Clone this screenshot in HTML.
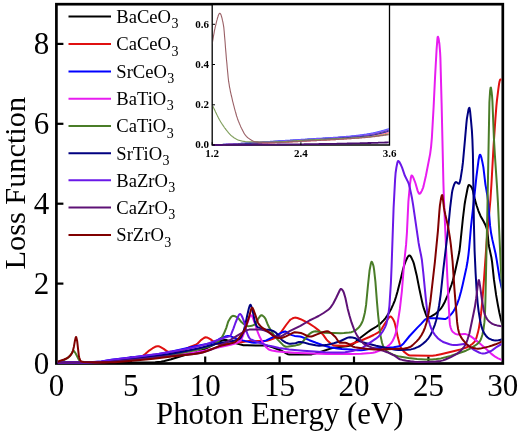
<!DOCTYPE html>
<html><head><meta charset="utf-8"><style>html,body{margin:0;padding:0;background:#fff;}svg{display:block;}</style></head>
<body>
<svg width="520" height="433" viewBox="0 0 520 433">
<rect width="520" height="433" fill="#fff"/>
<defs><clipPath id="c"><rect x="57.8" y="5.5" width="443.7" height="359.5"/></clipPath><clipPath id="ic"><rect x="212.9" y="5.5" width="175.9" height="141"/></clipPath></defs>
<rect x="56.4" y="4.2" width="446.4" height="359.3" fill="none" stroke="#000" stroke-width="2.7"/>
<line x1="56.4" y1="283.6" x2="63.4" y2="283.6" stroke="#000" stroke-width="2.2"/>
<line x1="56.4" y1="203.7" x2="63.4" y2="203.7" stroke="#000" stroke-width="2.2"/>
<line x1="56.4" y1="123.8" x2="63.4" y2="123.8" stroke="#000" stroke-width="2.2"/>
<line x1="56.4" y1="43.9" x2="63.4" y2="43.9" stroke="#000" stroke-width="2.2"/>
<line x1="130.8" y1="363.5" x2="130.8" y2="356.5" stroke="#000" stroke-width="2.2"/>
<line x1="205.2" y1="363.5" x2="205.2" y2="356.5" stroke="#000" stroke-width="2.2"/>
<line x1="279.6" y1="363.5" x2="279.6" y2="356.5" stroke="#000" stroke-width="2.2"/>
<line x1="354.0" y1="363.5" x2="354.0" y2="356.5" stroke="#000" stroke-width="2.2"/>
<line x1="428.4" y1="363.5" x2="428.4" y2="356.5" stroke="#000" stroke-width="2.2"/>
<g clip-path="url(#c)" fill="none" stroke-width="2" stroke-linejoin="round" stroke-linecap="round">
<path d="M56.4,362.4 L100.2,362.5 L150.2,362.4 L155.2,362.2 L160.9,361.7 L164.4,361.0 L171.2,359.2 L184.9,355.0 L195.4,352.4 L199.9,351.0 L203.7,349.5 L212.9,345.1 L220.2,341.2 L222.7,340.3 L224.7,340.0 L226.2,340.1 L227.7,340.4 L234.4,342.8 L240.7,344.6 L243.4,345.2 L247.2,345.3 L265.1,345.5 L266.9,345.7 L268.6,346.0 L272.6,347.2 L280.4,350.2 L282.1,351.0 L286.6,353.6 L288.1,354.2 L289.6,354.5 L310.1,354.5 L311.6,354.4 L314.9,353.6 L322.6,351.2 L329.6,348.9 L333.4,347.8 L337.4,347.2 L346.6,346.3 L350.4,345.6 L351.9,344.9 L353.4,343.9 L359.4,338.5 L367.6,332.2 L370.9,329.9 L376.6,326.5 L379.4,324.4 L381.6,322.4 L383.6,320.4 L385.4,318.3 L387.1,315.8 L389.4,312.1 L391.4,308.4 L393.1,304.6 L394.9,300.3 L396.1,296.5 L397.4,292.0 L400.6,279.5 L403.1,269.0 L404.4,264.6 L406.1,260.2 L407.4,257.5 L408.4,256.0 L408.9,255.6 L409.4,255.4 L409.9,255.6 L410.4,256.0 L411.4,257.6 L413.1,261.3 L414.1,264.4 L416.6,274.9 L419.4,289.1 L421.9,300.9 L422.9,305.2 L423.9,308.7 L425.9,314.4 L426.6,316.1 L427.1,316.9 L427.9,317.5 L428.9,317.4 L430.1,317.0 L434.1,314.7 L436.4,313.0 L439.9,309.6 L441.4,307.8 L442.6,306.0 L444.9,301.7 L447.6,295.4 L451.4,285.0 L452.9,280.3 L454.4,274.5 L458.1,257.8 L459.4,251.3 L460.1,245.6 L462.9,218.5 L464.6,204.5 L465.4,199.6 L467.4,189.2 L468.1,186.3 L468.6,185.2 L468.9,185.0 L469.6,185.2 L470.4,185.8 L471.1,186.7 L472.1,188.3 L472.9,190.6 L474.9,199.6 L476.6,205.5 L478.4,210.8 L480.4,215.7 L483.4,221.0 L485.4,225.0 L486.1,226.8 L486.9,229.2 L487.4,231.9 L488.6,243.4 L489.1,246.9 L491.4,257.5 L492.1,262.1 L493.9,279.2 L496.1,294.9 L497.9,305.1 L499.4,312.9 L501.1,320.3 L502.6,325.5" stroke="#000000"/>
<path d="M56.4,362.4 L96.9,362.3 L104.7,362.2 L110.2,361.9 L116.4,361.3 L132.2,359.2 L137.4,358.1 L139.9,357.3 L141.2,356.8 L142.7,355.9 L145.2,354.1 L149.2,350.6 L152.7,348.2 L155.2,346.8 L156.2,346.4 L157.2,346.2 L158.7,346.3 L160.2,346.9 L163.7,348.9 L166.4,350.9 L167.7,351.4 L173.9,351.8 L175.7,351.8 L177.4,351.6 L180.2,351.0 L183.4,350.1 L189.9,347.0 L195.9,344.6 L197.7,343.5 L200.9,340.1 L203.9,338.0 L204.9,337.5 L205.7,337.3 L206.9,337.4 L208.4,338.1 L210.7,339.4 L213.7,341.7 L214.9,342.5 L217.9,343.8 L219.7,344.2 L223.7,344.0 L239.4,342.6 L248.9,341.1 L265.1,340.9 L266.9,340.7 L269.6,340.0 L273.6,338.6 L275.9,337.4 L278.1,335.9 L279.9,333.9 L286.1,325.0 L289.6,320.5 L290.6,319.5 L292.4,318.5 L293.6,317.9 L294.9,317.6 L296.1,317.7 L297.4,318.0 L300.6,319.2 L302.6,320.1 L308.9,323.4 L314.4,327.0 L318.4,330.1 L321.9,333.4 L323.4,335.2 L326.4,339.4 L327.9,341.1 L331.9,344.5 L333.1,345.2 L334.4,345.6 L345.4,345.7 L348.1,345.2 L362.4,340.0 L369.4,337.0 L373.6,335.0 L377.9,332.6 L379.4,331.5 L380.4,330.6 L381.9,328.6 L384.9,323.6 L388.4,318.3 L389.4,317.1 L389.9,316.7 L390.4,316.5 L391.1,316.7 L392.1,317.8 L393.4,319.8 L394.4,322.0 L395.4,325.8 L397.9,337.6 L399.9,345.1 L400.9,347.8 L402.1,349.7 L403.6,351.4 L407.1,354.2 L408.9,355.3 L409.9,355.5 L413.6,355.6 L429.1,355.8 L432.4,355.7 L435.9,355.3 L440.9,354.2 L456.4,350.5 L460.6,349.4 L466.4,347.5 L468.4,346.5 L470.4,345.3 L472.6,343.7 L474.4,341.9 L475.4,340.4 L476.4,337.9 L477.9,332.6 L478.9,328.1 L480.1,320.6 L481.1,313.2 L482.4,300.2 L484.1,278.1 L487.1,235.2 L489.6,209.0 L490.4,200.0 L491.4,184.8 L493.6,145.4 L495.4,119.0 L496.4,105.9 L496.9,100.9 L498.4,88.6 L499.1,83.6 L499.6,81.2 L500.1,79.7 L500.4,79.4 L501.6,79.5 L502.6,79.9" stroke="#e01010"/>
<path d="M56.4,362.4 L85.9,362.4 L94.9,361.9 L101.4,361.4 L111.4,359.8 L147.4,355.6 L155.7,354.5 L163.7,353.2 L171.9,351.6 L197.7,345.8 L209.7,343.5 L212.7,342.5 L216.2,340.9 L217.7,340.1 L220.4,338.3 L221.7,337.6 L225.2,336.6 L227.9,336.1 L229.4,336.0 L230.7,336.3 L235.2,338.2 L237.7,339.0 L242.7,340.4 L249.7,342.1 L251.9,342.5 L253.9,342.8 L255.7,342.8 L257.6,342.6 L261.6,341.8 L266.4,340.4 L276.6,335.4 L280.1,333.4 L282.6,332.2 L283.9,331.7 L284.9,331.5 L285.4,331.5 L286.1,331.8 L289.4,334.1 L291.9,335.1 L294.6,335.9 L299.9,336.6 L302.1,337.1 L304.4,338.0 L309.4,340.2 L316.1,342.8 L325.4,346.1 L329.9,347.3 L337.6,348.5 L341.9,349.0 L350.6,349.6 L357.1,350.2 L360.9,350.3 L363.6,350.0 L369.6,349.0 L376.6,348.3 L380.9,347.9 L389.1,347.6 L393.6,347.2 L398.1,346.4 L400.1,346.0 L400.9,345.6 L402.1,344.8 L403.6,343.4 L409.6,336.0 L417.4,327.6 L420.9,324.1 L424.1,320.6 L425.6,319.3 L426.9,318.5 L428.1,318.3 L436.9,318.2 L444.6,319.0 L445.4,319.0 L446.1,318.7 L447.1,318.1 L448.4,317.0 L450.6,314.9 L451.9,313.4 L453.4,311.3 L454.9,308.8 L456.9,304.6 L459.1,298.5 L461.1,291.3 L462.6,285.0 L466.4,267.8 L467.4,262.3 L468.4,255.1 L469.1,248.6 L471.1,225.5 L474.1,198.6 L476.4,176.8 L478.6,159.7 L479.4,155.8 L479.9,154.7 L480.1,154.7 L480.6,155.4 L481.4,157.6 L482.4,162.1 L483.4,167.4 L485.4,184.3 L487.4,195.8 L488.1,201.3 L490.1,225.9 L491.1,233.3 L492.4,239.9 L495.6,253.8 L496.6,259.4 L499.6,278.2 L501.1,285.4 L502.6,291.5" stroke="#0000ff"/>
<path d="M56.4,362.4 L95.2,362.3 L101.4,362.1 L111.2,361.4 L146.7,357.9 L179.7,354.3 L188.9,353.2 L197.2,352.0 L205.4,350.5 L220.2,347.0 L230.7,344.7 L234.2,343.8 L237.4,342.6 L239.4,341.5 L240.2,340.9 L240.7,340.3 L241.9,338.0 L244.2,332.6 L246.7,324.8 L249.2,317.8 L250.2,315.8 L250.9,315.2 L251.2,315.2 L251.7,315.6 L252.7,317.4 L255.4,324.9 L257.9,332.7 L259.9,337.3 L262.4,341.9 L264.9,345.7 L265.9,346.9 L267.4,348.3 L268.4,349.2 L269.4,349.8 L271.9,350.5 L277.6,351.5 L284.1,352.1 L298.1,352.9 L313.4,353.6 L326.6,354.0 L339.1,354.1 L350.4,354.0 L361.4,353.7 L370.6,353.1 L372.9,352.8 L375.1,352.2 L380.4,350.3 L383.4,349.0 L386.4,347.3 L388.9,345.4 L390.9,343.4 L392.4,341.2 L393.9,338.3 L395.4,334.4 L396.4,330.3 L397.4,324.9 L399.9,308.7 L401.9,291.0 L404.1,263.4 L406.1,244.4 L406.9,233.1 L408.4,201.3 L409.9,184.9 L410.9,177.5 L411.4,175.7 L411.6,175.4 L412.1,175.6 L412.6,176.3 L413.4,177.9 L415.4,183.0 L417.6,190.6 L418.4,192.6 L418.9,193.5 L419.4,193.8 L419.9,193.6 L420.4,193.2 L421.1,192.1 L421.9,190.6 L423.1,187.6 L423.6,185.9 L425.9,175.8 L430.1,154.1 L431.1,146.6 L431.9,137.3 L433.6,107.3 L435.1,76.3 L436.6,49.3 L437.4,39.1 L437.6,37.3 L437.9,36.7 L438.1,36.9 L438.6,38.7 L439.4,44.0 L440.1,52.2 L440.4,58.1 L441.6,103.4 L443.4,182.7 L443.9,198.7 L447.4,278.5 L449.4,317.9 L449.9,324.4 L450.6,327.5 L451.6,330.2 L452.6,331.7 L454.6,333.3 L456.1,334.1 L457.6,334.5 L459.4,334.4 L463.9,334.0 L465.6,334.1 L467.4,334.6 L470.4,336.2 L472.9,337.9 L477.6,341.6 L485.9,348.8 L491.1,353.6 L493.4,355.4 L495.1,356.6 L498.1,358.3 L500.4,359.3 L502.6,360.2" stroke="#e81cf0"/>
<path d="M56.4,362.4 L58.6,362.0 L61.4,361.0 L64.9,359.5 L67.7,357.9 L68.9,357.0 L70.2,355.8 L72.4,352.2 L73.2,351.2 L73.7,350.9 L74.2,351.3 L75.7,353.5 L78.9,359.9 L80.2,361.3 L81.2,362.0 L82.2,362.3 L94.9,362.1 L102.7,361.9 L109.2,361.4 L128.4,359.2 L151.4,357.0 L162.7,355.7 L174.4,354.0 L184.9,352.2 L194.9,350.2 L204.7,347.9 L209.9,346.2 L214.4,344.3 L215.7,343.6 L216.9,342.7 L219.4,340.3 L222.2,336.8 L223.7,334.1 L226.2,328.1 L227.7,323.2 L228.4,321.2 L229.9,318.7 L230.9,317.3 L231.9,316.3 L232.9,315.8 L233.9,315.9 L234.9,316.2 L236.2,316.8 L237.9,317.9 L238.9,318.8 L241.4,322.1 L243.4,323.8 L244.9,325.0 L246.2,325.7 L247.2,326.1 L248.2,326.2 L249.9,326.1 L251.7,325.7 L253.4,325.1 L255.2,324.3 L255.9,323.3 L257.9,319.3 L260.1,316.1 L261.1,315.3 L261.6,315.2 L262.4,315.5 L263.9,316.7 L265.4,318.6 L267.6,324.2 L269.1,327.2 L271.9,332.0 L274.6,336.0 L277.9,339.9 L282.9,344.9 L284.6,346.3 L285.9,346.8 L288.4,346.6 L295.6,345.4 L298.4,344.7 L300.4,344.0 L301.1,343.5 L302.1,342.4 L307.9,335.5 L309.1,334.2 L309.9,333.6 L312.1,332.2 L314.1,331.4 L315.4,331.3 L317.1,331.5 L324.4,332.8 L334.6,333.1 L340.4,333.2 L343.9,333.1 L349.1,332.6 L351.4,332.2 L353.4,331.3 L355.9,330.0 L357.6,328.6 L359.4,326.7 L360.6,325.1 L361.6,323.3 L362.9,320.3 L363.6,317.9 L364.9,312.5 L366.1,304.9 L367.9,286.0 L369.6,270.2 L370.9,263.4 L371.4,262.0 L371.6,261.8 L371.9,261.9 L372.4,262.7 L373.1,264.8 L373.6,266.6 L374.1,269.8 L375.4,281.7 L376.9,301.2 L378.1,314.9 L379.6,328.6 L380.6,336.1 L382.1,343.0 L383.4,346.8 L383.9,347.8 L384.6,348.9 L386.6,351.0 L388.9,352.6 L392.6,354.5 L396.1,355.8 L399.4,356.6 L408.6,358.0 L417.1,358.9 L425.1,359.4 L432.1,359.5 L436.4,359.1 L440.9,358.4 L445.6,357.3 L450.6,355.9 L457.1,353.8 L465.9,350.7 L469.1,349.2 L472.6,347.2 L476.6,344.5 L478.4,343.0 L480.1,340.9 L481.1,338.8 L482.4,334.8 L483.6,328.7 L484.4,322.4 L484.9,316.0 L485.1,310.8 L485.4,300.7 L487.4,209.6 L489.4,102.3 L490.1,91.0 L490.6,87.7 L490.9,87.6 L491.1,88.4 L491.6,91.8 L492.1,96.7 L492.4,100.9 L493.9,138.0 L494.9,155.4 L496.9,185.0 L497.9,201.9 L500.9,268.5 L501.6,282.6 L502.6,297.9" stroke="#4a7d28"/>
<path d="M56.4,362.4 L90.9,362.3 L102.9,361.8 L113.2,360.9 L152.4,356.5 L166.7,354.5 L182.2,351.7 L201.2,347.7 L214.4,344.3 L218.9,343.2 L222.7,342.5 L231.7,341.2 L236.7,340.1 L238.9,339.2 L239.9,338.6 L240.4,338.1 L241.4,336.5 L242.7,333.6 L243.7,330.7 L245.2,325.2 L247.2,315.5 L248.9,308.2 L249.7,305.8 L250.2,304.9 L250.4,304.8 L250.7,304.9 L250.9,305.3 L251.7,307.5 L253.2,313.6 L254.9,321.7 L256.1,325.0 L257.1,326.7 L258.1,327.4 L259.6,327.9 L265.4,329.4 L270.6,330.1 L272.4,330.7 L274.1,331.5 L275.4,332.3 L276.4,333.2 L281.6,339.6 L282.6,340.6 L285.9,342.6 L288.4,343.5 L289.4,343.7 L290.6,343.7 L294.9,343.3 L296.1,343.0 L298.9,342.0 L300.6,341.9 L303.4,342.4 L309.1,344.0 L315.6,345.3 L319.1,345.7 L322.4,345.6 L327.4,344.7 L331.1,343.9 L333.9,343.2 L340.6,341.0 L347.1,337.9 L348.6,337.4 L350.1,337.3 L352.4,337.5 L355.4,338.2 L356.4,338.8 L358.9,340.6 L359.9,341.2 L362.4,342.1 L365.4,343.0 L376.1,345.7 L390.4,348.8 L395.4,349.7 L398.4,350.0 L401.6,350.0 L406.4,349.8 L410.9,349.4 L412.9,348.9 L415.1,348.2 L418.1,346.9 L419.9,346.0 L422.9,343.8 L426.1,340.9 L428.4,338.3 L430.4,335.3 L432.1,331.6 L434.9,324.6 L436.1,320.4 L437.4,315.1 L439.1,305.5 L440.6,295.1 L443.4,268.9 L447.9,230.9 L450.1,208.2 L451.9,193.3 L452.4,190.4 L453.1,187.7 L454.1,184.6 L454.9,183.0 L455.6,182.2 L456.1,182.1 L456.9,182.5 L458.4,183.6 L458.9,183.8 L459.1,183.7 L459.6,182.8 L460.4,179.8 L462.1,169.0 L462.9,162.7 L465.1,138.4 L466.4,123.3 L466.9,118.7 L468.4,110.1 L468.9,108.4 L469.1,108.0 L469.4,107.8 L469.6,108.3 L470.1,111.4 L471.1,121.6 L471.9,130.6 L472.4,139.7 L472.9,154.2 L473.9,223.4 L474.6,250.9 L475.6,273.0 L476.6,290.2 L477.6,302.5 L478.6,311.1 L480.1,320.3 L480.9,324.0 L481.6,326.9 L482.6,329.8 L483.6,332.1 L484.6,333.9 L485.9,335.7 L487.6,337.5 L489.1,338.6 L491.6,339.7 L493.6,340.3 L495.4,340.5 L498.4,340.3 L500.6,339.8 L502.6,339.0" stroke="#000080"/>
<path d="M56.4,362.4 L86.9,362.4 L92.9,362.1 L101.2,361.4 L110.2,360.0 L137.2,356.7 L158.9,353.7 L173.7,351.3 L183.4,349.6 L192.4,347.8 L200.7,345.8 L206.2,344.1 L224.2,337.8 L228.7,336.6 L230.2,335.9 L230.7,335.3 L231.4,333.7 L233.4,328.6 L235.4,323.0 L237.9,316.9 L238.9,314.9 L239.4,314.3 L239.9,314.0 L240.4,314.1 L241.2,314.9 L241.9,316.3 L242.7,318.0 L244.4,322.7 L246.2,330.1 L246.9,332.7 L248.4,336.4 L249.7,338.5 L250.4,339.1 L251.7,339.8 L258.6,342.5 L263.4,344.1 L267.6,345.4 L272.9,346.6 L279.1,347.9 L284.4,348.8 L289.1,349.4 L303.1,350.7 L314.6,351.6 L324.9,352.2 L334.4,352.5 L342.1,352.5 L345.1,352.3 L348.4,351.8 L353.4,350.7 L359.1,349.1 L361.1,348.4 L363.4,347.2 L375.9,338.7 L378.6,336.4 L380.9,334.0 L383.1,330.9 L385.1,327.1 L386.4,323.8 L387.6,318.6 L388.6,312.6 L389.4,306.1 L390.9,282.9 L391.6,266.1 L393.6,207.7 L395.1,179.4 L395.6,173.0 L396.4,167.5 L397.4,162.5 L397.9,161.2 L398.1,161.0 L398.6,161.2 L399.4,162.0 L401.1,165.3 L402.1,167.7 L404.9,175.8 L408.1,182.1 L408.9,184.2 L409.6,186.9 L411.1,193.7 L412.1,198.8 L413.1,204.9 L418.6,242.9 L419.4,247.2 L421.1,255.5 L421.9,260.0 L423.4,273.9 L425.6,296.7 L427.6,314.9 L428.6,320.0 L429.9,324.6 L431.1,328.1 L432.9,331.8 L433.9,333.4 L435.1,335.1 L438.1,338.5 L440.6,340.4 L442.4,341.5 L443.9,342.3 L449.6,344.2 L451.6,344.7 L453.6,344.9 L456.9,344.9 L463.9,344.0 L465.1,344.0 L466.1,344.2 L467.1,344.6 L468.4,345.4 L472.6,348.9 L474.4,350.2 L479.1,352.5 L480.6,353.1 L481.9,353.4 L483.6,353.5 L485.4,353.2 L487.4,352.5 L490.4,351.3 L492.4,350.1 L496.9,346.8 L502.6,343.4" stroke="#6a18e8"/>
<path d="M56.4,362.4 L100.4,362.3 L108.4,362.0 L136.7,359.4 L162.4,356.8 L186.2,354.8 L193.7,353.9 L200.2,353.0 L203.4,352.2 L207.2,351.1 L212.2,349.2 L217.7,346.8 L220.9,345.2 L225.2,342.8 L231.2,339.3 L237.7,335.3 L244.9,331.2 L247.2,330.1 L249.2,329.6 L260.1,329.5 L261.9,329.7 L264.1,330.4 L268.4,332.2 L269.6,332.9 L272.6,335.0 L274.1,335.8 L274.9,336.0 L277.6,336.4 L279.6,336.5 L280.6,336.4 L282.1,335.8 L290.1,330.9 L300.4,325.8 L309.4,320.5 L314.9,317.9 L318.6,316.0 L323.6,313.0 L327.9,310.0 L329.4,308.7 L330.6,307.4 L333.1,303.8 L336.1,298.0 L339.9,290.0 L340.4,289.3 L340.9,288.9 L341.6,289.2 L342.4,290.0 L343.1,291.0 L343.9,292.9 L345.4,298.0 L347.6,308.4 L349.6,316.0 L351.6,322.7 L353.9,328.9 L355.4,332.4 L357.1,335.6 L358.9,338.2 L361.4,341.3 L362.9,342.9 L364.1,344.0 L365.4,344.8 L367.4,345.8 L371.6,347.4 L376.6,349.0 L383.4,350.9 L387.1,352.2 L390.9,353.9 L394.9,355.9 L399.1,359.0 L399.9,359.3 L402.4,359.9 L406.4,360.7 L410.4,361.3 L414.4,361.8 L418.1,362.0 L423.4,362.0 L429.4,361.8 L435.6,361.4 L440.9,360.9 L442.9,360.4 L445.4,359.5 L450.9,357.1 L453.6,355.7 L455.9,354.4 L457.9,353.1 L459.9,351.5 L461.6,349.8 L464.1,346.8 L465.1,345.3 L465.9,343.8 L467.6,339.3 L469.4,333.5 L473.6,313.3 L474.9,306.8 L476.1,298.9 L478.1,282.8 L478.6,280.2 L478.9,280.1 L479.4,281.8 L480.1,286.3 L481.9,299.4 L483.6,309.7 L484.6,314.0 L485.9,316.9 L487.1,319.1 L488.6,321.0 L490.4,322.5 L492.4,323.8 L494.4,324.7 L497.1,325.4 L500.1,326.0 L502.6,326.2" stroke="#5e1276"/>
<path d="M56.4,362.4 L58.9,361.1 L64.2,359.5 L66.4,358.5 L67.7,357.8 L68.9,356.8 L70.2,355.6 L70.9,354.7 L72.2,352.7 L72.9,350.8 L73.9,346.7 L74.9,340.9 L75.7,337.6 L75.9,337.1 L76.2,337.1 L76.4,337.7 L77.2,341.3 L78.7,354.6 L78.9,356.3 L79.4,358.1 L80.2,360.2 L80.7,361.0 L80.9,361.3 L81.7,361.5 L83.7,361.9 L94.2,362.2 L110.2,362.3 L114.9,362.2 L120.4,361.8 L145.9,359.6 L153.4,358.8 L175.7,355.9 L193.9,353.9 L199.9,353.0 L202.9,352.3 L207.2,350.9 L218.7,346.4 L221.9,345.5 L228.7,344.1 L231.4,343.4 L234.7,342.2 L235.4,341.8 L236.2,341.2 L237.7,339.6 L241.9,334.0 L243.4,331.8 L244.7,329.5 L246.2,325.8 L248.9,317.4 L251.2,309.1 L251.7,308.0 L251.9,307.8 L252.2,307.7 L252.7,308.1 L253.4,309.6 L255.4,315.1 L257.9,322.6 L258.4,323.6 L259.4,325.0 L260.6,326.3 L262.9,328.2 L269.9,332.9 L273.9,336.4 L274.9,337.0 L277.6,337.9 L278.9,338.1 L280.1,338.2 L281.1,338.1 L282.4,337.8 L285.9,336.4 L292.9,332.9 L294.6,332.3 L297.4,332.4 L300.9,333.0 L302.6,333.7 L307.4,336.0 L308.9,336.5 L310.1,336.6 L311.4,336.5 L312.9,336.0 L316.9,334.4 L323.6,331.9 L325.4,331.5 L327.1,331.3 L328.6,331.6 L330.1,332.5 L331.9,333.8 L335.1,336.7 L336.1,338.0 L338.4,341.5 L339.4,342.5 L339.9,342.7 L345.1,342.7 L346.4,342.9 L348.4,343.8 L352.9,346.6 L354.9,347.3 L361.6,348.3 L368.1,349.0 L374.4,349.4 L380.6,349.5 L387.4,349.3 L404.4,348.6 L406.9,348.1 L409.9,347.0 L411.1,346.4 L412.4,345.4 L416.6,341.4 L419.1,338.6 L421.4,335.2 L423.4,331.5 L425.1,327.3 L426.6,322.5 L427.9,317.2 L429.1,310.2 L430.4,301.2 L434.9,261.8 L437.9,231.1 L439.4,211.0 L439.9,205.7 L441.1,197.9 L441.6,195.9 L441.9,195.3 L442.1,195.0 L442.4,195.3 L442.6,196.5 L443.9,207.4 L444.4,210.2 L445.4,215.0 L447.6,224.5 L448.6,229.7 L449.9,237.6 L450.9,245.1 L452.6,261.7 L454.4,288.6 L457.1,321.9 L457.4,324.3 L458.1,328.9 L458.9,332.2 L459.6,334.4 L460.9,336.9 L462.1,338.8 L466.1,343.6 L468.1,345.6 L469.4,346.5 L470.9,347.2 L473.6,348.1 L475.9,348.6 L478.1,348.8 L480.1,348.6 L488.6,346.6 L492.1,345.5 L495.6,344.3 L499.1,342.8 L502.6,341.2" stroke="#800000"/>
</g>
<rect x="212.2" y="5.6" width="177.3" height="139.4" fill="#fff" stroke="none"/>
<path d="M212.2,4.2 V145 H389.5 V4.2" fill="none" stroke="#000" stroke-width="1.3"/>
<g clip-path="url(#ic)" fill="none" stroke-width="1.1" stroke-linejoin="round">
<path d="M212.2,145.0 L212.6,145.0 L213.1,145.0 L213.5,144.9 L214.0,144.9 L214.4,144.9 L214.9,144.9 L215.3,144.8 L215.8,144.8 L216.2,144.8 L216.6,144.8 L217.1,144.7 L217.5,144.7 L218.0,144.7 L218.4,144.7 L218.9,144.7 L219.3,144.6 L219.8,144.6 L220.2,144.6 L220.6,144.6 L221.1,144.5 L221.5,144.5 L222.0,144.5 L222.4,144.5 L222.9,144.4 L223.3,144.4 L223.8,144.4 L224.2,144.4 L224.6,144.3 L225.1,144.3 L225.5,144.3 L226.0,144.3 L226.4,144.2 L226.9,144.2 L227.3,144.2 L227.8,144.2 L228.2,144.2 L228.6,144.1 L229.1,144.1 L229.5,144.1 L230.0,144.1 L230.4,144.0 L230.9,144.0 L231.3,144.0 L231.8,144.0 L232.2,143.9 L232.6,143.9 L233.1,143.9 L233.5,143.9 L234.0,143.8 L234.4,143.8 L234.9,143.8 L235.3,143.8 L235.8,143.7 L236.2,143.7 L236.6,143.7 L237.1,143.7 L237.5,143.6 L238.0,143.6 L238.4,143.6 L238.9,143.6 L239.3,143.5 L239.8,143.5 L240.2,143.5 L240.6,143.5 L241.1,143.4 L241.5,143.4 L242.0,143.4 L242.4,143.4 L242.9,143.3 L243.3,143.3 L243.7,143.3 L244.2,143.2 L244.6,143.2 L245.1,143.2 L245.5,143.2 L246.0,143.1 L246.4,143.1 L246.9,143.1 L247.3,143.1 L247.7,143.0 L248.2,143.0 L248.6,143.0 L249.1,143.0 L249.5,142.9 L250.0,142.9 L250.4,142.9 L250.9,142.8 L251.3,142.8 L251.7,142.8 L252.2,142.8 L252.6,142.7 L253.1,142.7 L253.5,142.7 L254.0,142.7 L254.4,142.6 L254.9,142.6 L255.3,142.6 L255.7,142.5 L256.2,142.5 L256.6,142.5 L257.1,142.5 L257.5,142.4 L258.0,142.4 L258.4,142.4 L258.9,142.4 L259.3,142.3 L259.7,142.3 L260.2,142.3 L260.6,142.2 L261.1,142.2 L261.5,142.2 L262.0,142.2 L262.4,142.1 L262.9,142.1 L263.3,142.1 L263.7,142.0 L264.2,142.0 L264.6,142.0 L265.1,142.0 L265.5,141.9 L266.0,141.9 L266.4,141.9 L266.9,141.9 L267.3,141.8 L267.7,141.8 L268.2,141.8 L268.6,141.7 L269.1,141.7 L269.5,141.7 L270.0,141.7 L270.4,141.6 L270.9,141.6 L271.3,141.6 L271.7,141.6 L272.2,141.5 L272.6,141.5 L273.1,141.5 L273.5,141.4 L274.0,141.4 L274.4,141.4 L274.9,141.4 L275.3,141.3 L275.7,141.3 L276.2,141.3 L276.6,141.3 L277.1,141.2 L277.5,141.2 L278.0,141.2 L278.4,141.2 L278.9,141.1 L279.3,141.1 L279.7,141.1 L280.2,141.0 L280.6,141.0 L281.1,141.0 L281.5,141.0 L282.0,140.9 L282.4,140.9 L282.9,140.9 L283.3,140.9 L283.7,140.8 L284.2,140.8 L284.6,140.8 L285.1,140.8 L285.5,140.7 L286.0,140.7 L286.4,140.7 L286.9,140.7 L287.3,140.6 L287.7,140.6 L288.2,140.6 L288.6,140.5 L289.1,140.5 L289.5,140.5 L290.0,140.5 L290.4,140.4 L290.9,140.4 L291.3,140.4 L291.7,140.4 L292.2,140.3 L292.6,140.3 L293.1,140.3 L293.5,140.3 L294.0,140.2 L294.4,140.2 L294.9,140.2 L295.3,140.2 L295.7,140.1 L296.2,140.1 L296.6,140.1 L297.1,140.0 L297.5,140.0 L298.0,140.0 L298.4,140.0 L298.9,139.9 L299.3,139.9 L299.7,139.9 L300.2,139.9 L300.6,139.8 L301.1,139.8 L301.5,139.8 L302.0,139.8 L302.4,139.7 L302.8,139.7 L303.3,139.7 L303.7,139.6 L304.2,139.6 L304.6,139.6 L305.1,139.6 L305.5,139.5 L306.0,139.5 L306.4,139.5 L306.8,139.5 L307.3,139.4 L307.7,139.4 L308.2,139.4 L308.6,139.3 L309.1,139.3 L309.5,139.3 L310.0,139.3 L310.4,139.2 L310.8,139.2 L311.3,139.2 L311.7,139.1 L312.2,139.1 L312.6,139.1 L313.1,139.1 L313.5,139.0 L314.0,139.0 L314.4,139.0 L314.8,139.0 L315.3,138.9 L315.7,138.9 L316.2,138.9 L316.6,138.8 L317.1,138.8 L317.5,138.8 L318.0,138.8 L318.4,138.7 L318.8,138.7 L319.3,138.7 L319.7,138.7 L320.2,138.6 L320.6,138.6 L321.1,138.6 L321.5,138.5 L322.0,138.5 L322.4,138.5 L322.8,138.5 L323.3,138.4 L323.7,138.4 L324.2,138.4 L324.6,138.4 L325.1,138.3 L325.5,138.3 L326.0,138.3 L326.4,138.2 L326.8,138.2 L327.3,138.2 L327.7,138.2 L328.2,138.1 L328.6,138.1 L329.1,138.1 L329.5,138.0 L330.0,138.0 L330.4,138.0 L330.8,138.0 L331.3,137.9 L331.7,137.9 L332.2,137.9 L332.6,137.8 L333.1,137.8 L333.5,137.8 L334.0,137.8 L334.4,137.7 L334.8,137.7 L335.3,137.7 L335.7,137.6 L336.2,137.6 L336.6,137.6 L337.1,137.5 L337.5,137.5 L338.0,137.5 L338.4,137.5 L338.8,137.4 L339.3,137.4 L339.7,137.4 L340.2,137.3 L340.6,137.3 L341.1,137.3 L341.5,137.2 L342.0,137.2 L342.4,137.2 L342.8,137.1 L343.3,137.1 L343.7,137.1 L344.2,137.0 L344.6,137.0 L345.1,137.0 L345.5,136.9 L346.0,136.9 L346.4,136.9 L346.8,136.8 L347.3,136.8 L347.7,136.8 L348.2,136.7 L348.6,136.7 L349.1,136.7 L349.5,136.6 L350.0,136.6 L350.4,136.6 L350.8,136.5 L351.3,136.5 L351.7,136.5 L352.2,136.4 L352.6,136.4 L353.1,136.4 L353.5,136.3 L354.0,136.3 L354.4,136.2 L354.8,136.2 L355.3,136.2 L355.7,136.1 L356.2,136.1 L356.6,136.1 L357.1,136.0 L357.5,136.0 L358.0,135.9 L358.4,135.9 L358.8,135.9 L359.3,135.8 L359.7,135.8 L360.2,135.7 L360.6,135.7 L361.1,135.7 L361.5,135.6 L361.9,135.6 L362.4,135.5 L362.8,135.5 L363.3,135.4 L363.7,135.4 L364.2,135.3 L364.6,135.3 L365.1,135.2 L365.5,135.2 L365.9,135.1 L366.4,135.1 L366.8,135.0 L367.3,134.9 L367.7,134.9 L368.2,134.8 L368.6,134.8 L369.1,134.7 L369.5,134.6 L369.9,134.6 L370.4,134.5 L370.8,134.4 L371.3,134.3 L371.7,134.3 L372.2,134.2 L372.6,134.1 L373.1,134.0 L373.5,133.9 L373.9,133.9 L374.4,133.8 L374.8,133.7 L375.3,133.6 L375.7,133.5 L376.2,133.4 L376.6,133.3 L377.1,133.2 L377.5,133.1 L377.9,133.0 L378.4,132.9 L378.8,132.8 L379.3,132.7 L379.7,132.6 L380.2,132.5 L380.6,132.4 L381.1,132.2 L381.5,132.1 L381.9,132.0 L382.4,131.9 L382.8,131.8 L383.3,131.7 L383.7,131.5 L384.2,131.4 L384.6,131.3 L385.1,131.2 L385.5,131.1 L385.9,130.9 L386.4,130.8 L386.8,130.7 L387.3,130.6 L387.7,130.4 L388.2,130.3 L388.6,130.2 L389.1,130.0 L389.5,129.9" stroke="#444466"/>
<path d="M212.2,145.0 L212.6,145.0 L213.1,145.0 L213.5,144.9 L214.0,144.9 L214.4,144.9 L214.9,144.9 L215.3,144.8 L215.8,144.8 L216.2,144.8 L216.6,144.8 L217.1,144.8 L217.5,144.7 L218.0,144.7 L218.4,144.7 L218.9,144.7 L219.3,144.6 L219.8,144.6 L220.2,144.6 L220.6,144.6 L221.1,144.6 L221.5,144.5 L222.0,144.5 L222.4,144.5 L222.9,144.5 L223.3,144.4 L223.8,144.4 L224.2,144.4 L224.6,144.4 L225.1,144.3 L225.5,144.3 L226.0,144.3 L226.4,144.3 L226.9,144.2 L227.3,144.2 L227.8,144.2 L228.2,144.2 L228.6,144.2 L229.1,144.1 L229.5,144.1 L230.0,144.1 L230.4,144.1 L230.9,144.0 L231.3,144.0 L231.8,144.0 L232.2,144.0 L232.6,143.9 L233.1,143.9 L233.5,143.9 L234.0,143.8 L234.4,143.8 L234.9,143.8 L235.3,143.8 L235.8,143.7 L236.2,143.7 L236.6,143.7 L237.1,143.7 L237.5,143.6 L238.0,143.6 L238.4,143.6 L238.9,143.6 L239.3,143.5 L239.8,143.5 L240.2,143.5 L240.6,143.5 L241.1,143.4 L241.5,143.4 L242.0,143.4 L242.4,143.3 L242.9,143.3 L243.3,143.3 L243.7,143.3 L244.2,143.2 L244.6,143.2 L245.1,143.2 L245.5,143.2 L246.0,143.1 L246.4,143.1 L246.9,143.1 L247.3,143.0 L247.7,143.0 L248.2,143.0 L248.6,143.0 L249.1,142.9 L249.5,142.9 L250.0,142.9 L250.4,142.8 L250.9,142.8 L251.3,142.8 L251.7,142.7 L252.2,142.7 L252.6,142.7 L253.1,142.6 L253.5,142.6 L254.0,142.6 L254.4,142.6 L254.9,142.5 L255.3,142.5 L255.7,142.5 L256.2,142.4 L256.6,142.4 L257.1,142.4 L257.5,142.3 L258.0,142.3 L258.4,142.3 L258.9,142.2 L259.3,142.2 L259.7,142.2 L260.2,142.1 L260.6,142.1 L261.1,142.1 L261.5,142.1 L262.0,142.0 L262.4,142.0 L262.9,142.0 L263.3,141.9 L263.7,141.9 L264.2,141.9 L264.6,141.8 L265.1,141.8 L265.5,141.8 L266.0,141.7 L266.4,141.7 L266.9,141.7 L267.3,141.7 L267.7,141.6 L268.2,141.6 L268.6,141.6 L269.1,141.5 L269.5,141.5 L270.0,141.5 L270.4,141.4 L270.9,141.4 L271.3,141.4 L271.7,141.3 L272.2,141.3 L272.6,141.3 L273.1,141.3 L273.5,141.2 L274.0,141.2 L274.4,141.2 L274.9,141.1 L275.3,141.1 L275.7,141.1 L276.2,141.1 L276.6,141.0 L277.1,141.0 L277.5,141.0 L278.0,140.9 L278.4,140.9 L278.9,140.9 L279.3,140.8 L279.7,140.8 L280.2,140.8 L280.6,140.8 L281.1,140.7 L281.5,140.7 L282.0,140.7 L282.4,140.6 L282.9,140.6 L283.3,140.6 L283.7,140.6 L284.2,140.5 L284.6,140.5 L285.1,140.5 L285.5,140.4 L286.0,140.4 L286.4,140.4 L286.9,140.4 L287.3,140.3 L287.7,140.3 L288.2,140.3 L288.6,140.2 L289.1,140.2 L289.5,140.2 L290.0,140.2 L290.4,140.1 L290.9,140.1 L291.3,140.1 L291.7,140.0 L292.2,140.0 L292.6,140.0 L293.1,140.0 L293.5,139.9 L294.0,139.9 L294.4,139.9 L294.9,139.8 L295.3,139.8 L295.7,139.8 L296.2,139.7 L296.6,139.7 L297.1,139.7 L297.5,139.7 L298.0,139.6 L298.4,139.6 L298.9,139.6 L299.3,139.5 L299.7,139.5 L300.2,139.5 L300.6,139.5 L301.1,139.4 L301.5,139.4 L302.0,139.4 L302.4,139.3 L302.8,139.3 L303.3,139.3 L303.7,139.3 L304.2,139.2 L304.6,139.2 L305.1,139.2 L305.5,139.1 L306.0,139.1 L306.4,139.1 L306.8,139.1 L307.3,139.0 L307.7,139.0 L308.2,139.0 L308.6,138.9 L309.1,138.9 L309.5,138.9 L310.0,138.9 L310.4,138.8 L310.8,138.8 L311.3,138.8 L311.7,138.7 L312.2,138.7 L312.6,138.7 L313.1,138.7 L313.5,138.6 L314.0,138.6 L314.4,138.6 L314.8,138.6 L315.3,138.5 L315.7,138.5 L316.2,138.5 L316.6,138.4 L317.1,138.4 L317.5,138.4 L318.0,138.4 L318.4,138.3 L318.8,138.3 L319.3,138.3 L319.7,138.3 L320.2,138.2 L320.6,138.2 L321.1,138.2 L321.5,138.2 L322.0,138.1 L322.4,138.1 L322.8,138.1 L323.3,138.1 L323.7,138.0 L324.2,138.0 L324.6,138.0 L325.1,138.0 L325.5,137.9 L326.0,137.9 L326.4,137.9 L326.8,137.8 L327.3,137.8 L327.7,137.8 L328.2,137.8 L328.6,137.7 L329.1,137.7 L329.5,137.7 L330.0,137.7 L330.4,137.6 L330.8,137.6 L331.3,137.6 L331.7,137.5 L332.2,137.5 L332.6,137.5 L333.1,137.5 L333.5,137.4 L334.0,137.4 L334.4,137.4 L334.8,137.3 L335.3,137.3 L335.7,137.3 L336.2,137.2 L336.6,137.2 L337.1,137.2 L337.5,137.2 L338.0,137.1 L338.4,137.1 L338.8,137.1 L339.3,137.0 L339.7,137.0 L340.2,137.0 L340.6,136.9 L341.1,136.9 L341.5,136.9 L342.0,136.8 L342.4,136.8 L342.8,136.7 L343.3,136.7 L343.7,136.7 L344.2,136.6 L344.6,136.6 L345.1,136.6 L345.5,136.5 L346.0,136.5 L346.4,136.4 L346.8,136.4 L347.3,136.4 L347.7,136.3 L348.2,136.3 L348.6,136.2 L349.1,136.2 L349.5,136.2 L350.0,136.1 L350.4,136.1 L350.8,136.0 L351.3,136.0 L351.7,135.9 L352.2,135.9 L352.6,135.8 L353.1,135.8 L353.5,135.8 L354.0,135.7 L354.4,135.7 L354.8,135.6 L355.3,135.6 L355.7,135.5 L356.2,135.5 L356.6,135.4 L357.1,135.4 L357.5,135.3 L358.0,135.2 L358.4,135.2 L358.8,135.1 L359.3,135.1 L359.7,135.0 L360.2,135.0 L360.6,134.9 L361.1,134.8 L361.5,134.8 L361.9,134.7 L362.4,134.7 L362.8,134.6 L363.3,134.5 L363.7,134.5 L364.2,134.4 L364.6,134.4 L365.1,134.3 L365.5,134.2 L365.9,134.2 L366.4,134.1 L366.8,134.0 L367.3,133.9 L367.7,133.9 L368.2,133.8 L368.6,133.7 L369.1,133.6 L369.5,133.6 L369.9,133.5 L370.4,133.4 L370.8,133.3 L371.3,133.2 L371.7,133.1 L372.2,133.1 L372.6,133.0 L373.1,132.9 L373.5,132.8 L373.9,132.7 L374.4,132.6 L374.8,132.5 L375.3,132.4 L375.7,132.3 L376.2,132.2 L376.6,132.1 L377.1,132.0 L377.5,131.9 L377.9,131.7 L378.4,131.6 L378.8,131.5 L379.3,131.4 L379.7,131.3 L380.2,131.2 L380.6,131.1 L381.1,130.9 L381.5,130.8 L381.9,130.7 L382.4,130.6 L382.8,130.5 L383.3,130.3 L383.7,130.2 L384.2,130.1 L384.6,130.0 L385.1,129.8 L385.5,129.7 L385.9,129.6 L386.4,129.4 L386.8,129.3 L387.3,129.2 L387.7,129.0 L388.2,128.9 L388.6,128.8 L389.1,128.6 L389.5,128.5" stroke="#4455ff"/>
<path d="M212.2,145.0 L212.6,145.0 L213.1,145.0 L213.5,144.9 L214.0,144.9 L214.4,144.9 L214.9,144.9 L215.3,144.9 L215.8,144.9 L216.2,144.8 L216.6,144.8 L217.1,144.8 L217.5,144.8 L218.0,144.8 L218.4,144.7 L218.9,144.7 L219.3,144.7 L219.8,144.7 L220.2,144.7 L220.6,144.7 L221.1,144.6 L221.5,144.6 L222.0,144.6 L222.4,144.6 L222.9,144.6 L223.3,144.5 L223.8,144.5 L224.2,144.5 L224.6,144.5 L225.1,144.5 L225.5,144.5 L226.0,144.4 L226.4,144.4 L226.9,144.4 L227.3,144.4 L227.8,144.4 L228.2,144.3 L228.6,144.3 L229.1,144.3 L229.5,144.3 L230.0,144.3 L230.4,144.3 L230.9,144.2 L231.3,144.2 L231.8,144.2 L232.2,144.2 L232.6,144.2 L233.1,144.1 L233.5,144.1 L234.0,144.1 L234.4,144.1 L234.9,144.1 L235.3,144.1 L235.8,144.0 L236.2,144.0 L236.6,144.0 L237.1,144.0 L237.5,144.0 L238.0,143.9 L238.4,143.9 L238.9,143.9 L239.3,143.9 L239.8,143.9 L240.2,143.9 L240.6,143.8 L241.1,143.8 L241.5,143.8 L242.0,143.8 L242.4,143.8 L242.9,143.7 L243.3,143.7 L243.7,143.7 L244.2,143.7 L244.6,143.7 L245.1,143.7 L245.5,143.6 L246.0,143.6 L246.4,143.6 L246.9,143.6 L247.3,143.6 L247.7,143.6 L248.2,143.5 L248.6,143.5 L249.1,143.5 L249.5,143.5 L250.0,143.5 L250.4,143.4 L250.9,143.4 L251.3,143.4 L251.7,143.4 L252.2,143.4 L252.6,143.4 L253.1,143.3 L253.5,143.3 L254.0,143.3 L254.4,143.3 L254.9,143.3 L255.3,143.3 L255.7,143.2 L256.2,143.2 L256.6,143.2 L257.1,143.2 L257.5,143.2 L258.0,143.2 L258.4,143.1 L258.9,143.1 L259.3,143.1 L259.7,143.1 L260.2,143.1 L260.6,143.0 L261.1,143.0 L261.5,143.0 L262.0,143.0 L262.4,143.0 L262.9,143.0 L263.3,142.9 L263.7,142.9 L264.2,142.9 L264.6,142.9 L265.1,142.9 L265.5,142.8 L266.0,142.8 L266.4,142.8 L266.9,142.8 L267.3,142.8 L267.7,142.7 L268.2,142.7 L268.6,142.7 L269.1,142.7 L269.5,142.7 L270.0,142.6 L270.4,142.6 L270.9,142.6 L271.3,142.6 L271.7,142.6 L272.2,142.5 L272.6,142.5 L273.1,142.5 L273.5,142.5 L274.0,142.5 L274.4,142.4 L274.9,142.4 L275.3,142.4 L275.7,142.4 L276.2,142.4 L276.6,142.3 L277.1,142.3 L277.5,142.3 L278.0,142.3 L278.4,142.2 L278.9,142.2 L279.3,142.2 L279.7,142.2 L280.2,142.2 L280.6,142.1 L281.1,142.1 L281.5,142.1 L282.0,142.1 L282.4,142.0 L282.9,142.0 L283.3,142.0 L283.7,142.0 L284.2,141.9 L284.6,141.9 L285.1,141.9 L285.5,141.9 L286.0,141.8 L286.4,141.8 L286.9,141.8 L287.3,141.8 L287.7,141.8 L288.2,141.7 L288.6,141.7 L289.1,141.7 L289.5,141.7 L290.0,141.6 L290.4,141.6 L290.9,141.6 L291.3,141.6 L291.7,141.5 L292.2,141.5 L292.6,141.5 L293.1,141.5 L293.5,141.4 L294.0,141.4 L294.4,141.4 L294.9,141.4 L295.3,141.3 L295.7,141.3 L296.2,141.3 L296.6,141.3 L297.1,141.2 L297.5,141.2 L298.0,141.2 L298.4,141.2 L298.9,141.1 L299.3,141.1 L299.7,141.1 L300.2,141.0 L300.6,141.0 L301.1,141.0 L301.5,141.0 L302.0,140.9 L302.4,140.9 L302.8,140.9 L303.3,140.9 L303.7,140.8 L304.2,140.8 L304.6,140.8 L305.1,140.8 L305.5,140.7 L306.0,140.7 L306.4,140.7 L306.8,140.7 L307.3,140.6 L307.7,140.6 L308.2,140.6 L308.6,140.6 L309.1,140.5 L309.5,140.5 L310.0,140.5 L310.4,140.4 L310.8,140.4 L311.3,140.4 L311.7,140.4 L312.2,140.3 L312.6,140.3 L313.1,140.3 L313.5,140.3 L314.0,140.2 L314.4,140.2 L314.8,140.2 L315.3,140.2 L315.7,140.1 L316.2,140.1 L316.6,140.1 L317.1,140.1 L317.5,140.0 L318.0,140.0 L318.4,140.0 L318.8,139.9 L319.3,139.9 L319.7,139.9 L320.2,139.9 L320.6,139.8 L321.1,139.8 L321.5,139.8 L322.0,139.8 L322.4,139.7 L322.8,139.7 L323.3,139.7 L323.7,139.6 L324.2,139.6 L324.6,139.6 L325.1,139.6 L325.5,139.5 L326.0,139.5 L326.4,139.5 L326.8,139.5 L327.3,139.4 L327.7,139.4 L328.2,139.4 L328.6,139.3 L329.1,139.3 L329.5,139.3 L330.0,139.3 L330.4,139.2 L330.8,139.2 L331.3,139.2 L331.7,139.1 L332.2,139.1 L332.6,139.1 L333.1,139.0 L333.5,139.0 L334.0,139.0 L334.4,139.0 L334.8,138.9 L335.3,138.9 L335.7,138.9 L336.2,138.8 L336.6,138.8 L337.1,138.8 L337.5,138.7 L338.0,138.7 L338.4,138.7 L338.8,138.6 L339.3,138.6 L339.7,138.6 L340.2,138.5 L340.6,138.5 L341.1,138.5 L341.5,138.4 L342.0,138.4 L342.4,138.4 L342.8,138.3 L343.3,138.3 L343.7,138.3 L344.2,138.2 L344.6,138.2 L345.1,138.2 L345.5,138.1 L346.0,138.1 L346.4,138.1 L346.8,138.0 L347.3,138.0 L347.7,138.0 L348.2,137.9 L348.6,137.9 L349.1,137.8 L349.5,137.8 L350.0,137.8 L350.4,137.7 L350.8,137.7 L351.3,137.7 L351.7,137.6 L352.2,137.6 L352.6,137.5 L353.1,137.5 L353.5,137.5 L354.0,137.4 L354.4,137.4 L354.8,137.3 L355.3,137.3 L355.7,137.3 L356.2,137.2 L356.6,137.2 L357.1,137.1 L357.5,137.1 L358.0,137.0 L358.4,137.0 L358.8,136.9 L359.3,136.9 L359.7,136.9 L360.2,136.8 L360.6,136.8 L361.1,136.7 L361.5,136.7 L361.9,136.6 L362.4,136.6 L362.8,136.5 L363.3,136.5 L363.7,136.4 L364.2,136.4 L364.6,136.3 L365.1,136.2 L365.5,136.2 L365.9,136.1 L366.4,136.1 L366.8,136.0 L367.3,136.0 L367.7,135.9 L368.2,135.8 L368.6,135.8 L369.1,135.7 L369.5,135.6 L369.9,135.6 L370.4,135.5 L370.8,135.4 L371.3,135.4 L371.7,135.3 L372.2,135.2 L372.6,135.1 L373.1,135.0 L373.5,135.0 L373.9,134.9 L374.4,134.8 L374.8,134.7 L375.3,134.6 L375.7,134.5 L376.2,134.5 L376.6,134.4 L377.1,134.3 L377.5,134.2 L377.9,134.1 L378.4,134.0 L378.8,133.9 L379.3,133.8 L379.7,133.7 L380.2,133.6 L380.6,133.5 L381.1,133.4 L381.5,133.3 L381.9,133.2 L382.4,133.1 L382.8,133.0 L383.3,132.9 L383.7,132.8 L384.2,132.7 L384.6,132.6 L385.1,132.5 L385.5,132.3 L385.9,132.2 L386.4,132.1 L386.8,132.0 L387.3,131.9 L387.7,131.8 L388.2,131.7 L388.6,131.6 L389.1,131.4 L389.5,131.3" stroke="#ff55ff"/>
<path d="M212.2,145.0 L212.6,145.0 L213.1,145.0 L213.5,144.9 L214.0,144.9 L214.4,144.9 L214.9,144.9 L215.3,144.9 L215.8,144.9 L216.2,144.8 L216.6,144.8 L217.1,144.8 L217.5,144.8 L218.0,144.8 L218.4,144.7 L218.9,144.7 L219.3,144.7 L219.8,144.7 L220.2,144.7 L220.6,144.6 L221.1,144.6 L221.5,144.6 L222.0,144.6 L222.4,144.6 L222.9,144.5 L223.3,144.5 L223.8,144.5 L224.2,144.5 L224.6,144.5 L225.1,144.4 L225.5,144.4 L226.0,144.4 L226.4,144.4 L226.9,144.3 L227.3,144.3 L227.8,144.3 L228.2,144.3 L228.6,144.3 L229.1,144.2 L229.5,144.2 L230.0,144.2 L230.4,144.2 L230.9,144.2 L231.3,144.1 L231.8,144.1 L232.2,144.1 L232.6,144.1 L233.1,144.0 L233.5,144.0 L234.0,144.0 L234.4,144.0 L234.9,144.0 L235.3,143.9 L235.8,143.9 L236.2,143.9 L236.6,143.9 L237.1,143.8 L237.5,143.8 L238.0,143.8 L238.4,143.8 L238.9,143.7 L239.3,143.7 L239.8,143.7 L240.2,143.7 L240.6,143.7 L241.1,143.6 L241.5,143.6 L242.0,143.6 L242.4,143.6 L242.9,143.5 L243.3,143.5 L243.7,143.5 L244.2,143.5 L244.6,143.4 L245.1,143.4 L245.5,143.4 L246.0,143.4 L246.4,143.3 L246.9,143.3 L247.3,143.3 L247.7,143.3 L248.2,143.2 L248.6,143.2 L249.1,143.2 L249.5,143.2 L250.0,143.1 L250.4,143.1 L250.9,143.1 L251.3,143.0 L251.7,143.0 L252.2,143.0 L252.6,143.0 L253.1,142.9 L253.5,142.9 L254.0,142.9 L254.4,142.9 L254.9,142.8 L255.3,142.8 L255.7,142.8 L256.2,142.7 L256.6,142.7 L257.1,142.7 L257.5,142.7 L258.0,142.6 L258.4,142.6 L258.9,142.6 L259.3,142.5 L259.7,142.5 L260.2,142.5 L260.6,142.5 L261.1,142.4 L261.5,142.4 L262.0,142.4 L262.4,142.3 L262.9,142.3 L263.3,142.3 L263.7,142.3 L264.2,142.2 L264.6,142.2 L265.1,142.2 L265.5,142.1 L266.0,142.1 L266.4,142.1 L266.9,142.1 L267.3,142.0 L267.7,142.0 L268.2,142.0 L268.6,142.0 L269.1,141.9 L269.5,141.9 L270.0,141.9 L270.4,141.8 L270.9,141.8 L271.3,141.8 L271.7,141.8 L272.2,141.7 L272.6,141.7 L273.1,141.7 L273.5,141.6 L274.0,141.6 L274.4,141.6 L274.9,141.6 L275.3,141.5 L275.7,141.5 L276.2,141.5 L276.6,141.4 L277.1,141.4 L277.5,141.4 L278.0,141.4 L278.4,141.3 L278.9,141.3 L279.3,141.3 L279.7,141.2 L280.2,141.2 L280.6,141.2 L281.1,141.2 L281.5,141.1 L282.0,141.1 L282.4,141.1 L282.9,141.0 L283.3,141.0 L283.7,141.0 L284.2,141.0 L284.6,140.9 L285.1,140.9 L285.5,140.9 L286.0,140.8 L286.4,140.8 L286.9,140.8 L287.3,140.7 L287.7,140.7 L288.2,140.7 L288.6,140.7 L289.1,140.6 L289.5,140.6 L290.0,140.6 L290.4,140.5 L290.9,140.5 L291.3,140.5 L291.7,140.5 L292.2,140.4 L292.6,140.4 L293.1,140.4 L293.5,140.3 L294.0,140.3 L294.4,140.3 L294.9,140.2 L295.3,140.2 L295.7,140.2 L296.2,140.2 L296.6,140.1 L297.1,140.1 L297.5,140.1 L298.0,140.0 L298.4,140.0 L298.9,140.0 L299.3,140.0 L299.7,139.9 L300.2,139.9 L300.6,139.9 L301.1,139.8 L301.5,139.8 L302.0,139.8 L302.4,139.7 L302.8,139.7 L303.3,139.7 L303.7,139.7 L304.2,139.6 L304.6,139.6 L305.1,139.6 L305.5,139.5 L306.0,139.5 L306.4,139.5 L306.8,139.5 L307.3,139.4 L307.7,139.4 L308.2,139.4 L308.6,139.3 L309.1,139.3 L309.5,139.3 L310.0,139.3 L310.4,139.2 L310.8,139.2 L311.3,139.2 L311.7,139.1 L312.2,139.1 L312.6,139.1 L313.1,139.1 L313.5,139.0 L314.0,139.0 L314.4,139.0 L314.8,139.0 L315.3,138.9 L315.7,138.9 L316.2,138.9 L316.6,138.8 L317.1,138.8 L317.5,138.8 L318.0,138.8 L318.4,138.7 L318.8,138.7 L319.3,138.7 L319.7,138.7 L320.2,138.6 L320.6,138.6 L321.1,138.6 L321.5,138.6 L322.0,138.5 L322.4,138.5 L322.8,138.5 L323.3,138.4 L323.7,138.4 L324.2,138.4 L324.6,138.4 L325.1,138.3 L325.5,138.3 L326.0,138.3 L326.4,138.3 L326.8,138.2 L327.3,138.2 L327.7,138.2 L328.2,138.2 L328.6,138.1 L329.1,138.1 L329.5,138.1 L330.0,138.0 L330.4,138.0 L330.8,138.0 L331.3,138.0 L331.7,137.9 L332.2,137.9 L332.6,137.9 L333.1,137.8 L333.5,137.8 L334.0,137.8 L334.4,137.8 L334.8,137.7 L335.3,137.7 L335.7,137.7 L336.2,137.6 L336.6,137.6 L337.1,137.6 L337.5,137.5 L338.0,137.5 L338.4,137.5 L338.8,137.4 L339.3,137.4 L339.7,137.4 L340.2,137.3 L340.6,137.3 L341.1,137.3 L341.5,137.2 L342.0,137.2 L342.4,137.2 L342.8,137.1 L343.3,137.1 L343.7,137.1 L344.2,137.0 L344.6,137.0 L345.1,137.0 L345.5,136.9 L346.0,136.9 L346.4,136.8 L346.8,136.8 L347.3,136.8 L347.7,136.7 L348.2,136.7 L348.6,136.7 L349.1,136.6 L349.5,136.6 L350.0,136.5 L350.4,136.5 L350.8,136.5 L351.3,136.4 L351.7,136.4 L352.2,136.3 L352.6,136.3 L353.1,136.2 L353.5,136.2 L354.0,136.2 L354.4,136.1 L354.8,136.1 L355.3,136.0 L355.7,136.0 L356.2,135.9 L356.6,135.9 L357.1,135.8 L357.5,135.8 L358.0,135.7 L358.4,135.7 L358.8,135.6 L359.3,135.6 L359.7,135.5 L360.2,135.5 L360.6,135.4 L361.1,135.4 L361.5,135.3 L361.9,135.3 L362.4,135.2 L362.8,135.2 L363.3,135.1 L363.7,135.0 L364.2,135.0 L364.6,134.9 L365.1,134.9 L365.5,134.8 L365.9,134.7 L366.4,134.7 L366.8,134.6 L367.3,134.5 L367.7,134.5 L368.2,134.4 L368.6,134.3 L369.1,134.3 L369.5,134.2 L369.9,134.1 L370.4,134.0 L370.8,134.0 L371.3,133.9 L371.7,133.8 L372.2,133.7 L372.6,133.6 L373.1,133.5 L373.5,133.4 L373.9,133.3 L374.4,133.3 L374.8,133.2 L375.3,133.1 L375.7,133.0 L376.2,132.9 L376.6,132.8 L377.1,132.7 L377.5,132.6 L377.9,132.5 L378.4,132.3 L378.8,132.2 L379.3,132.1 L379.7,132.0 L380.2,131.9 L380.6,131.8 L381.1,131.7 L381.5,131.6 L381.9,131.4 L382.4,131.3 L382.8,131.2 L383.3,131.1 L383.7,131.0 L384.2,130.8 L384.6,130.7 L385.1,130.6 L385.5,130.5 L385.9,130.3 L386.4,130.2 L386.8,130.1 L387.3,130.0 L387.7,129.8 L388.2,129.7 L388.6,129.6 L389.1,129.4 L389.5,129.3" stroke="#8855ff"/>
<path d="M212.2,145.0 L212.6,145.0 L213.1,145.0 L213.5,145.0 L214.0,144.9 L214.4,144.9 L214.9,144.9 L215.3,144.9 L215.8,144.9 L216.2,144.9 L216.6,144.8 L217.1,144.8 L217.5,144.8 L218.0,144.8 L218.4,144.8 L218.9,144.8 L219.3,144.8 L219.8,144.7 L220.2,144.7 L220.6,144.7 L221.1,144.7 L221.5,144.7 L222.0,144.7 L222.4,144.7 L222.9,144.6 L223.3,144.6 L223.8,144.6 L224.2,144.6 L224.6,144.6 L225.1,144.6 L225.5,144.5 L226.0,144.5 L226.4,144.5 L226.9,144.5 L227.3,144.5 L227.8,144.5 L228.2,144.5 L228.6,144.4 L229.1,144.4 L229.5,144.4 L230.0,144.4 L230.4,144.4 L230.9,144.4 L231.3,144.3 L231.8,144.3 L232.2,144.3 L232.6,144.3 L233.1,144.3 L233.5,144.3 L234.0,144.3 L234.4,144.2 L234.9,144.2 L235.3,144.2 L235.8,144.2 L236.2,144.2 L236.6,144.2 L237.1,144.2 L237.5,144.1 L238.0,144.1 L238.4,144.1 L238.9,144.1 L239.3,144.1 L239.8,144.1 L240.2,144.0 L240.6,144.0 L241.1,144.0 L241.5,144.0 L242.0,144.0 L242.4,144.0 L242.9,144.0 L243.3,143.9 L243.7,143.9 L244.2,143.9 L244.6,143.9 L245.1,143.9 L245.5,143.9 L246.0,143.9 L246.4,143.8 L246.9,143.8 L247.3,143.8 L247.7,143.8 L248.2,143.8 L248.6,143.8 L249.1,143.8 L249.5,143.7 L250.0,143.7 L250.4,143.7 L250.9,143.7 L251.3,143.7 L251.7,143.7 L252.2,143.7 L252.6,143.6 L253.1,143.6 L253.5,143.6 L254.0,143.6 L254.4,143.6 L254.9,143.6 L255.3,143.6 L255.7,143.5 L256.2,143.5 L256.6,143.5 L257.1,143.5 L257.5,143.5 L258.0,143.5 L258.4,143.5 L258.9,143.4 L259.3,143.4 L259.7,143.4 L260.2,143.4 L260.6,143.4 L261.1,143.4 L261.5,143.4 L262.0,143.3 L262.4,143.3 L262.9,143.3 L263.3,143.3 L263.7,143.3 L264.2,143.3 L264.6,143.2 L265.1,143.2 L265.5,143.2 L266.0,143.2 L266.4,143.2 L266.9,143.2 L267.3,143.1 L267.7,143.1 L268.2,143.1 L268.6,143.1 L269.1,143.1 L269.5,143.1 L270.0,143.0 L270.4,143.0 L270.9,143.0 L271.3,143.0 L271.7,143.0 L272.2,143.0 L272.6,142.9 L273.1,142.9 L273.5,142.9 L274.0,142.9 L274.4,142.9 L274.9,142.8 L275.3,142.8 L275.7,142.8 L276.2,142.8 L276.6,142.7 L277.1,142.7 L277.5,142.7 L278.0,142.7 L278.4,142.7 L278.9,142.6 L279.3,142.6 L279.7,142.6 L280.2,142.6 L280.6,142.5 L281.1,142.5 L281.5,142.5 L282.0,142.5 L282.4,142.5 L282.9,142.4 L283.3,142.4 L283.7,142.4 L284.2,142.4 L284.6,142.3 L285.1,142.3 L285.5,142.3 L286.0,142.3 L286.4,142.2 L286.9,142.2 L287.3,142.2 L287.7,142.2 L288.2,142.1 L288.6,142.1 L289.1,142.1 L289.5,142.1 L290.0,142.0 L290.4,142.0 L290.9,142.0 L291.3,142.0 L291.7,141.9 L292.2,141.9 L292.6,141.9 L293.1,141.8 L293.5,141.8 L294.0,141.8 L294.4,141.8 L294.9,141.7 L295.3,141.7 L295.7,141.7 L296.2,141.7 L296.6,141.6 L297.1,141.6 L297.5,141.6 L298.0,141.6 L298.4,141.5 L298.9,141.5 L299.3,141.5 L299.7,141.5 L300.2,141.4 L300.6,141.4 L301.1,141.4 L301.5,141.4 L302.0,141.3 L302.4,141.3 L302.8,141.3 L303.3,141.3 L303.7,141.2 L304.2,141.2 L304.6,141.2 L305.1,141.2 L305.5,141.1 L306.0,141.1 L306.4,141.1 L306.8,141.1 L307.3,141.0 L307.7,141.0 L308.2,141.0 L308.6,141.0 L309.1,140.9 L309.5,140.9 L310.0,140.9 L310.4,140.9 L310.8,140.8 L311.3,140.8 L311.7,140.8 L312.2,140.8 L312.6,140.7 L313.1,140.7 L313.5,140.7 L314.0,140.7 L314.4,140.7 L314.8,140.6 L315.3,140.6 L315.7,140.6 L316.2,140.6 L316.6,140.5 L317.1,140.5 L317.5,140.5 L318.0,140.5 L318.4,140.5 L318.8,140.4 L319.3,140.4 L319.7,140.4 L320.2,140.4 L320.6,140.3 L321.1,140.3 L321.5,140.3 L322.0,140.3 L322.4,140.3 L322.8,140.2 L323.3,140.2 L323.7,140.2 L324.2,140.2 L324.6,140.1 L325.1,140.1 L325.5,140.1 L326.0,140.1 L326.4,140.1 L326.8,140.0 L327.3,140.0 L327.7,140.0 L328.2,140.0 L328.6,139.9 L329.1,139.9 L329.5,139.9 L330.0,139.9 L330.4,139.8 L330.8,139.8 L331.3,139.8 L331.7,139.8 L332.2,139.8 L332.6,139.7 L333.1,139.7 L333.5,139.7 L334.0,139.7 L334.4,139.6 L334.8,139.6 L335.3,139.6 L335.7,139.6 L336.2,139.5 L336.6,139.5 L337.1,139.5 L337.5,139.5 L338.0,139.4 L338.4,139.4 L338.8,139.4 L339.3,139.3 L339.7,139.3 L340.2,139.3 L340.6,139.3 L341.1,139.2 L341.5,139.2 L342.0,139.2 L342.4,139.2 L342.8,139.1 L343.3,139.1 L343.7,139.1 L344.2,139.0 L344.6,139.0 L345.1,139.0 L345.5,138.9 L346.0,138.9 L346.4,138.9 L346.8,138.8 L347.3,138.8 L347.7,138.8 L348.2,138.8 L348.6,138.7 L349.1,138.7 L349.5,138.7 L350.0,138.6 L350.4,138.6 L350.8,138.6 L351.3,138.5 L351.7,138.5 L352.2,138.4 L352.6,138.4 L353.1,138.4 L353.5,138.3 L354.0,138.3 L354.4,138.3 L354.8,138.2 L355.3,138.2 L355.7,138.2 L356.2,138.1 L356.6,138.1 L357.1,138.0 L357.5,138.0 L358.0,138.0 L358.4,137.9 L358.8,137.9 L359.3,137.8 L359.7,137.8 L360.2,137.7 L360.6,137.7 L361.1,137.7 L361.5,137.6 L361.9,137.6 L362.4,137.5 L362.8,137.5 L363.3,137.4 L363.7,137.4 L364.2,137.3 L364.6,137.3 L365.1,137.2 L365.5,137.2 L365.9,137.1 L366.4,137.1 L366.8,137.0 L367.3,137.0 L367.7,136.9 L368.2,136.8 L368.6,136.8 L369.1,136.7 L369.5,136.7 L369.9,136.6 L370.4,136.5 L370.8,136.5 L371.3,136.4 L371.7,136.3 L372.2,136.3 L372.6,136.2 L373.1,136.1 L373.5,136.0 L373.9,136.0 L374.4,135.9 L374.8,135.8 L375.3,135.7 L375.7,135.6 L376.2,135.5 L376.6,135.5 L377.1,135.4 L377.5,135.3 L377.9,135.2 L378.4,135.1 L378.8,135.0 L379.3,134.9 L379.7,134.8 L380.2,134.7 L380.6,134.6 L381.1,134.5 L381.5,134.4 L381.9,134.3 L382.4,134.2 L382.8,134.1 L383.3,134.0 L383.7,133.9 L384.2,133.8 L384.6,133.7 L385.1,133.6 L385.5,133.5 L385.9,133.4 L386.4,133.3 L386.8,133.2 L387.3,133.1 L387.7,133.0 L388.2,132.9 L388.6,132.8 L389.1,132.6 L389.5,132.5" stroke="#ff7777"/>
<path d="M212.2,145.0 L212.6,145.0 L213.1,145.0 L213.5,144.9 L214.0,144.9 L214.4,144.9 L214.9,144.9 L215.3,144.9 L215.8,144.9 L216.2,144.8 L216.6,144.8 L217.1,144.8 L217.5,144.8 L218.0,144.8 L218.4,144.8 L218.9,144.7 L219.3,144.7 L219.8,144.7 L220.2,144.7 L220.6,144.7 L221.1,144.7 L221.5,144.6 L222.0,144.6 L222.4,144.6 L222.9,144.6 L223.3,144.6 L223.8,144.6 L224.2,144.5 L224.6,144.5 L225.1,144.5 L225.5,144.5 L226.0,144.5 L226.4,144.4 L226.9,144.4 L227.3,144.4 L227.8,144.4 L228.2,144.4 L228.6,144.4 L229.1,144.3 L229.5,144.3 L230.0,144.3 L230.4,144.3 L230.9,144.3 L231.3,144.2 L231.8,144.2 L232.2,144.2 L232.6,144.2 L233.1,144.2 L233.5,144.1 L234.0,144.1 L234.4,144.1 L234.9,144.1 L235.3,144.1 L235.8,144.1 L236.2,144.0 L236.6,144.0 L237.1,144.0 L237.5,144.0 L238.0,144.0 L238.4,143.9 L238.9,143.9 L239.3,143.9 L239.8,143.9 L240.2,143.9 L240.6,143.8 L241.1,143.8 L241.5,143.8 L242.0,143.8 L242.4,143.8 L242.9,143.7 L243.3,143.7 L243.7,143.7 L244.2,143.7 L244.6,143.7 L245.1,143.6 L245.5,143.6 L246.0,143.6 L246.4,143.6 L246.9,143.6 L247.3,143.5 L247.7,143.5 L248.2,143.5 L248.6,143.5 L249.1,143.5 L249.5,143.4 L250.0,143.4 L250.4,143.4 L250.9,143.4 L251.3,143.4 L251.7,143.3 L252.2,143.3 L252.6,143.3 L253.1,143.3 L253.5,143.3 L254.0,143.2 L254.4,143.2 L254.9,143.2 L255.3,143.2 L255.7,143.2 L256.2,143.1 L256.6,143.1 L257.1,143.1 L257.5,143.1 L258.0,143.1 L258.4,143.0 L258.9,143.0 L259.3,143.0 L259.7,143.0 L260.2,142.9 L260.6,142.9 L261.1,142.9 L261.5,142.9 L262.0,142.9 L262.4,142.8 L262.9,142.8 L263.3,142.8 L263.7,142.8 L264.2,142.7 L264.6,142.7 L265.1,142.7 L265.5,142.7 L266.0,142.7 L266.4,142.6 L266.9,142.6 L267.3,142.6 L267.7,142.6 L268.2,142.5 L268.6,142.5 L269.1,142.5 L269.5,142.5 L270.0,142.5 L270.4,142.4 L270.9,142.4 L271.3,142.4 L271.7,142.4 L272.2,142.3 L272.6,142.3 L273.1,142.3 L273.5,142.3 L274.0,142.2 L274.4,142.2 L274.9,142.2 L275.3,142.2 L275.7,142.1 L276.2,142.1 L276.6,142.1 L277.1,142.1 L277.5,142.0 L278.0,142.0 L278.4,142.0 L278.9,142.0 L279.3,141.9 L279.7,141.9 L280.2,141.9 L280.6,141.9 L281.1,141.8 L281.5,141.8 L282.0,141.8 L282.4,141.8 L282.9,141.7 L283.3,141.7 L283.7,141.7 L284.2,141.7 L284.6,141.6 L285.1,141.6 L285.5,141.6 L286.0,141.6 L286.4,141.5 L286.9,141.5 L287.3,141.5 L287.7,141.4 L288.2,141.4 L288.6,141.4 L289.1,141.4 L289.5,141.3 L290.0,141.3 L290.4,141.3 L290.9,141.3 L291.3,141.2 L291.7,141.2 L292.2,141.2 L292.6,141.1 L293.1,141.1 L293.5,141.1 L294.0,141.1 L294.4,141.0 L294.9,141.0 L295.3,141.0 L295.7,141.0 L296.2,140.9 L296.6,140.9 L297.1,140.9 L297.5,140.8 L298.0,140.8 L298.4,140.8 L298.9,140.8 L299.3,140.7 L299.7,140.7 L300.2,140.7 L300.6,140.6 L301.1,140.6 L301.5,140.6 L302.0,140.6 L302.4,140.5 L302.8,140.5 L303.3,140.5 L303.7,140.5 L304.2,140.4 L304.6,140.4 L305.1,140.4 L305.5,140.3 L306.0,140.3 L306.4,140.3 L306.8,140.3 L307.3,140.2 L307.7,140.2 L308.2,140.2 L308.6,140.1 L309.1,140.1 L309.5,140.1 L310.0,140.1 L310.4,140.0 L310.8,140.0 L311.3,140.0 L311.7,140.0 L312.2,139.9 L312.6,139.9 L313.1,139.9 L313.5,139.8 L314.0,139.8 L314.4,139.8 L314.8,139.8 L315.3,139.7 L315.7,139.7 L316.2,139.7 L316.6,139.6 L317.1,139.6 L317.5,139.6 L318.0,139.6 L318.4,139.5 L318.8,139.5 L319.3,139.5 L319.7,139.5 L320.2,139.4 L320.6,139.4 L321.1,139.4 L321.5,139.3 L322.0,139.3 L322.4,139.3 L322.8,139.3 L323.3,139.2 L323.7,139.2 L324.2,139.2 L324.6,139.1 L325.1,139.1 L325.5,139.1 L326.0,139.1 L326.4,139.0 L326.8,139.0 L327.3,139.0 L327.7,138.9 L328.2,138.9 L328.6,138.9 L329.1,138.9 L329.5,138.8 L330.0,138.8 L330.4,138.8 L330.8,138.7 L331.3,138.7 L331.7,138.7 L332.2,138.7 L332.6,138.6 L333.1,138.6 L333.5,138.6 L334.0,138.5 L334.4,138.5 L334.8,138.5 L335.3,138.5 L335.7,138.4 L336.2,138.4 L336.6,138.4 L337.1,138.3 L337.5,138.3 L338.0,138.3 L338.4,138.2 L338.8,138.2 L339.3,138.2 L339.7,138.1 L340.2,138.1 L340.6,138.1 L341.1,138.1 L341.5,138.0 L342.0,138.0 L342.4,138.0 L342.8,137.9 L343.3,137.9 L343.7,137.9 L344.2,137.8 L344.6,137.8 L345.1,137.8 L345.5,137.7 L346.0,137.7 L346.4,137.7 L346.8,137.6 L347.3,137.6 L347.7,137.6 L348.2,137.5 L348.6,137.5 L349.1,137.5 L349.5,137.5 L350.0,137.4 L350.4,137.4 L350.8,137.4 L351.3,137.3 L351.7,137.3 L352.2,137.3 L352.6,137.2 L353.1,137.2 L353.5,137.2 L354.0,137.1 L354.4,137.1 L354.8,137.1 L355.3,137.1 L355.7,137.0 L356.2,137.0 L356.6,137.0 L357.1,136.9 L357.5,136.9 L358.0,136.9 L358.4,136.8 L358.8,136.8 L359.3,136.7 L359.7,136.7 L360.2,136.7 L360.6,136.6 L361.1,136.6 L361.5,136.6 L361.9,136.5 L362.4,136.5 L362.8,136.4 L363.3,136.4 L363.7,136.3 L364.2,136.3 L364.6,136.3 L365.1,136.2 L365.5,136.2 L365.9,136.1 L366.4,136.1 L366.8,136.0 L367.3,136.0 L367.7,135.9 L368.2,135.8 L368.6,135.8 L369.1,135.7 L369.5,135.7 L369.9,135.6 L370.4,135.5 L370.8,135.5 L371.3,135.4 L371.7,135.3 L372.2,135.2 L372.6,135.1 L373.1,135.1 L373.5,135.0 L373.9,134.9 L374.4,134.8 L374.8,134.7 L375.3,134.6 L375.7,134.5 L376.2,134.4 L376.6,134.3 L377.1,134.2 L377.5,134.1 L377.9,134.0 L378.4,133.9 L378.8,133.8 L379.3,133.7 L379.7,133.6 L380.2,133.5 L380.6,133.4 L381.1,133.3 L381.5,133.2 L381.9,133.1 L382.4,132.9 L382.8,132.8 L383.3,132.7 L383.7,132.6 L384.2,132.5 L384.6,132.3 L385.1,132.2 L385.5,132.1 L385.9,132.0 L386.4,131.8 L386.8,131.7 L387.3,131.6 L387.7,131.4 L388.2,131.3 L388.6,131.2 L389.1,131.0 L389.5,130.9" stroke="#333399"/>
<path d="M212.2,104.8 L212.6,105.7 L213.1,106.7 L213.5,107.7 L214.0,108.6 L214.4,109.6 L214.9,110.5 L215.3,111.4 L215.8,112.4 L216.2,113.3 L216.6,114.2 L217.1,115.1 L217.5,116.0 L218.0,116.9 L218.4,117.8 L218.9,118.7 L219.3,119.5 L219.8,120.2 L220.2,121.0 L220.6,121.7 L221.1,122.5 L221.5,123.2 L222.0,123.9 L222.4,124.6 L222.9,125.2 L223.3,125.9 L223.8,126.5 L224.2,127.2 L224.6,127.8 L225.1,128.4 L225.5,129.0 L226.0,129.5 L226.4,130.1 L226.9,130.7 L227.3,131.3 L227.8,131.8 L228.2,132.4 L228.6,132.9 L229.1,133.4 L229.5,133.9 L230.0,134.4 L230.4,134.8 L230.9,135.3 L231.3,135.7 L231.8,136.0 L232.2,136.4 L232.6,136.7 L233.1,137.0 L233.5,137.3 L234.0,137.7 L234.4,138.0 L234.9,138.2 L235.3,138.5 L235.8,138.8 L236.2,139.0 L236.6,139.3 L237.1,139.5 L237.5,139.7 L238.0,139.9 L238.4,140.1 L238.9,140.2 L239.3,140.4 L239.8,140.5 L240.2,140.6 L240.6,140.7 L241.1,140.8 L241.5,140.9 L242.0,141.0 L242.4,141.1 L242.9,141.2 L243.3,141.3 L243.7,141.4 L244.2,141.4 L244.6,141.5 L245.1,141.6 L245.5,141.7 L246.0,141.7 L246.4,141.8 L246.9,141.8 L247.3,141.8 L247.7,141.9 L248.2,141.9 L248.6,141.9 L249.1,141.9 L249.5,141.9 L250.0,141.9 L250.4,141.9 L250.9,141.9 L251.3,141.9 L251.7,141.9 L252.2,141.9 L252.6,141.9 L253.1,141.9 L253.5,141.9 L254.0,141.9 L254.4,141.9 L254.9,141.9 L255.3,141.9 L255.7,141.9 L256.2,141.9 L256.6,141.9 L257.1,141.9 L257.5,141.9 L258.0,142.0 L258.4,142.0 L258.9,142.0 L259.3,142.0 L259.7,142.0 L260.2,142.0 L260.6,142.0 L261.1,142.0 L261.5,142.0 L262.0,142.0 L262.4,142.0 L262.9,142.0 L263.3,142.0 L263.7,142.0 L264.2,142.0 L264.6,142.0 L265.1,142.0 L265.5,142.0 L266.0,142.0 L266.4,142.0 L266.9,142.0 L267.3,142.0 L267.7,142.0 L268.2,142.0 L268.6,142.0 L269.1,142.0 L269.5,142.0 L270.0,142.0 L270.4,142.0 L270.9,142.0 L271.3,142.0 L271.7,142.0 L272.2,142.0 L272.6,142.0 L273.1,142.0 L273.5,142.0 L274.0,142.0 L274.4,142.0 L274.9,141.9 L275.3,141.9 L275.7,141.9 L276.2,141.9 L276.6,141.9 L277.1,141.9 L277.5,141.9 L278.0,141.9 L278.4,141.8 L278.9,141.8 L279.3,141.8 L279.7,141.8 L280.2,141.8 L280.6,141.7 L281.1,141.7 L281.5,141.7 L282.0,141.7 L282.4,141.7 L282.9,141.6 L283.3,141.6 L283.7,141.6 L284.2,141.6 L284.6,141.5 L285.1,141.5 L285.5,141.5 L286.0,141.5 L286.4,141.4 L286.9,141.4 L287.3,141.4 L287.7,141.3 L288.2,141.3 L288.6,141.3 L289.1,141.2 L289.5,141.2 L290.0,141.2 L290.4,141.2 L290.9,141.1 L291.3,141.1 L291.7,141.1 L292.2,141.0 L292.6,141.0 L293.1,141.0 L293.5,140.9 L294.0,140.9 L294.4,140.9 L294.9,140.8 L295.3,140.8 L295.7,140.8 L296.2,140.7 L296.6,140.7 L297.1,140.7 L297.5,140.6 L298.0,140.6 L298.4,140.6 L298.9,140.5 L299.3,140.5 L299.7,140.5 L300.2,140.5 L300.6,140.4 L301.1,140.4 L301.5,140.4 L302.0,140.3 L302.4,140.3 L302.8,140.3 L303.3,140.2 L303.7,140.2 L304.2,140.2 L304.6,140.2 L305.1,140.1 L305.5,140.1 L306.0,140.1 L306.4,140.1 L306.8,140.0 L307.3,140.0 L307.7,140.0 L308.2,140.0 L308.6,140.0 L309.1,139.9 L309.5,139.9 L310.0,139.9 L310.4,139.9 L310.8,139.8 L311.3,139.8 L311.7,139.8 L312.2,139.8 L312.6,139.8 L313.1,139.7 L313.5,139.7 L314.0,139.7 L314.4,139.7 L314.8,139.7 L315.3,139.6 L315.7,139.6 L316.2,139.6 L316.6,139.6 L317.1,139.6 L317.5,139.6 L318.0,139.5 L318.4,139.5 L318.8,139.5 L319.3,139.5 L319.7,139.5 L320.2,139.4 L320.6,139.4 L321.1,139.4 L321.5,139.4 L322.0,139.4 L322.4,139.4 L322.8,139.3 L323.3,139.3 L323.7,139.3 L324.2,139.3 L324.6,139.3 L325.1,139.2 L325.5,139.2 L326.0,139.2 L326.4,139.2 L326.8,139.2 L327.3,139.2 L327.7,139.1 L328.2,139.1 L328.6,139.1 L329.1,139.1 L329.5,139.1 L330.0,139.1 L330.4,139.0 L330.8,139.0 L331.3,139.0 L331.7,139.0 L332.2,139.0 L332.6,138.9 L333.1,138.9 L333.5,138.9 L334.0,138.9 L334.4,138.9 L334.8,138.8 L335.3,138.8 L335.7,138.8 L336.2,138.8 L336.6,138.8 L337.1,138.8 L337.5,138.7 L338.0,138.7 L338.4,138.7 L338.8,138.7 L339.3,138.7 L339.7,138.6 L340.2,138.6 L340.6,138.6 L341.1,138.6 L341.5,138.5 L342.0,138.5 L342.4,138.5 L342.8,138.5 L343.3,138.5 L343.7,138.4 L344.2,138.4 L344.6,138.4 L345.1,138.4 L345.5,138.3 L346.0,138.3 L346.4,138.3 L346.8,138.3 L347.3,138.2 L347.7,138.2 L348.2,138.2 L348.6,138.2 L349.1,138.2 L349.5,138.1 L350.0,138.1 L350.4,138.1 L350.8,138.1 L351.3,138.0 L351.7,138.0 L352.2,138.0 L352.6,138.0 L353.1,137.9 L353.5,137.9 L354.0,137.9 L354.4,137.9 L354.8,137.8 L355.3,137.8 L355.7,137.8 L356.2,137.8 L356.6,137.7 L357.1,137.7 L357.5,137.7 L358.0,137.6 L358.4,137.6 L358.8,137.6 L359.3,137.6 L359.7,137.5 L360.2,137.5 L360.6,137.5 L361.1,137.4 L361.5,137.4 L361.9,137.4 L362.4,137.3 L362.8,137.3 L363.3,137.3 L363.7,137.2 L364.2,137.2 L364.6,137.2 L365.1,137.1 L365.5,137.1 L365.9,137.1 L366.4,137.0 L366.8,137.0 L367.3,137.0 L367.7,136.9 L368.2,136.9 L368.6,136.8 L369.1,136.8 L369.5,136.8 L369.9,136.7 L370.4,136.7 L370.8,136.6 L371.3,136.6 L371.7,136.5 L372.2,136.5 L372.6,136.4 L373.1,136.4 L373.5,136.3 L373.9,136.3 L374.4,136.2 L374.8,136.2 L375.3,136.1 L375.7,136.0 L376.2,136.0 L376.6,135.9 L377.1,135.9 L377.5,135.8 L377.9,135.7 L378.4,135.7 L378.8,135.6 L379.3,135.6 L379.7,135.5 L380.2,135.4 L380.6,135.4 L381.1,135.3 L381.5,135.2 L381.9,135.2 L382.4,135.1 L382.8,135.0 L383.3,135.0 L383.7,134.9 L384.2,134.8 L384.6,134.7 L385.1,134.7 L385.5,134.6 L385.9,134.5 L386.4,134.5 L386.8,134.4 L387.3,134.3 L387.7,134.2 L388.2,134.2 L388.6,134.1 L389.1,134.0 L389.5,133.9" stroke="#7a9a55"/>
<path d="M212.2,44.4 L212.6,41.5 L213.1,38.6 L213.5,35.9 L214.0,33.3 L214.4,30.9 L214.9,28.7 L215.3,26.6 L215.8,24.8 L216.2,23.1 L216.6,21.4 L217.1,19.7 L217.5,18.0 L218.0,16.5 L218.4,15.2 L218.9,14.2 L219.3,13.5 L219.8,13.2 L220.2,13.4 L220.6,14.1 L221.1,15.1 L221.5,16.5 L222.0,18.2 L222.4,20.2 L222.9,22.2 L223.3,24.4 L223.8,27.4 L224.2,31.6 L224.6,36.6 L225.1,42.2 L225.5,47.9 L226.0,53.6 L226.4,58.8 L226.9,63.6 L227.3,68.5 L227.8,73.4 L228.2,77.7 L228.6,81.2 L229.1,84.1 L229.5,86.8 L230.0,89.2 L230.4,91.5 L230.9,93.6 L231.3,95.5 L231.8,97.4 L232.2,99.2 L232.6,101.1 L233.1,102.8 L233.5,104.6 L234.0,106.4 L234.4,108.1 L234.9,109.8 L235.3,111.4 L235.8,113.0 L236.2,114.5 L236.6,116.0 L237.1,117.4 L237.5,118.7 L238.0,120.0 L238.4,121.2 L238.9,122.3 L239.3,123.3 L239.8,124.4 L240.2,125.4 L240.6,126.4 L241.1,127.4 L241.5,128.3 L242.0,129.2 L242.4,130.1 L242.9,131.0 L243.3,131.8 L243.7,132.6 L244.2,133.4 L244.6,134.1 L245.1,134.8 L245.5,135.4 L246.0,135.9 L246.4,136.4 L246.9,136.9 L247.3,137.3 L247.7,137.6 L248.2,138.0 L248.6,138.3 L249.1,138.6 L249.5,138.9 L250.0,139.3 L250.4,139.6 L250.9,139.8 L251.3,140.1 L251.7,140.4 L252.2,140.6 L252.6,140.8 L253.1,141.0 L253.5,141.2 L254.0,141.4 L254.4,141.6 L254.9,141.7 L255.3,141.8 L255.7,141.9 L256.2,141.9 L256.6,142.0 L257.1,142.0 L257.5,142.1 L258.0,142.1 L258.4,142.1 L258.9,142.2 L259.3,142.2 L259.7,142.2 L260.2,142.2 L260.6,142.3 L261.1,142.3 L261.5,142.3 L262.0,142.3 L262.4,142.4 L262.9,142.4 L263.3,142.4 L263.7,142.4 L264.2,142.4 L264.6,142.5 L265.1,142.5 L265.5,142.5 L266.0,142.5 L266.4,142.5 L266.9,142.5 L267.3,142.5 L267.7,142.6 L268.2,142.6 L268.6,142.6 L269.1,142.6 L269.5,142.6 L270.0,142.6 L270.4,142.6 L270.9,142.6 L271.3,142.6 L271.7,142.6 L272.2,142.6 L272.6,142.6 L273.1,142.6 L273.5,142.6 L274.0,142.6 L274.4,142.6 L274.9,142.6 L275.3,142.6 L275.7,142.5 L276.2,142.5 L276.6,142.5 L277.1,142.5 L277.5,142.5 L278.0,142.5 L278.4,142.5 L278.9,142.5 L279.3,142.5 L279.7,142.4 L280.2,142.4 L280.6,142.4 L281.1,142.4 L281.5,142.4 L282.0,142.4 L282.4,142.3 L282.9,142.3 L283.3,142.3 L283.7,142.3 L284.2,142.3 L284.6,142.3 L285.1,142.2 L285.5,142.2 L286.0,142.2 L286.4,142.2 L286.9,142.2 L287.3,142.1 L287.7,142.1 L288.2,142.1 L288.6,142.1 L289.1,142.0 L289.5,142.0 L290.0,142.0 L290.4,142.0 L290.9,141.9 L291.3,141.9 L291.7,141.9 L292.2,141.9 L292.6,141.8 L293.1,141.8 L293.5,141.8 L294.0,141.8 L294.4,141.7 L294.9,141.7 L295.3,141.7 L295.7,141.7 L296.2,141.6 L296.6,141.6 L297.1,141.6 L297.5,141.6 L298.0,141.5 L298.4,141.5 L298.9,141.5 L299.3,141.5 L299.7,141.4 L300.2,141.4 L300.6,141.4 L301.1,141.4 L301.5,141.3 L302.0,141.3 L302.4,141.3 L302.8,141.3 L303.3,141.2 L303.7,141.2 L304.2,141.2 L304.6,141.2 L305.1,141.1 L305.5,141.1 L306.0,141.1 L306.4,141.1 L306.8,141.0 L307.3,141.0 L307.7,141.0 L308.2,141.0 L308.6,141.0 L309.1,140.9 L309.5,140.9 L310.0,140.9 L310.4,140.9 L310.8,140.8 L311.3,140.8 L311.7,140.8 L312.2,140.8 L312.6,140.8 L313.1,140.7 L313.5,140.7 L314.0,140.7 L314.4,140.7 L314.8,140.7 L315.3,140.6 L315.7,140.6 L316.2,140.6 L316.6,140.6 L317.1,140.5 L317.5,140.5 L318.0,140.5 L318.4,140.5 L318.8,140.4 L319.3,140.4 L319.7,140.4 L320.2,140.4 L320.6,140.4 L321.1,140.3 L321.5,140.3 L322.0,140.3 L322.4,140.3 L322.8,140.2 L323.3,140.2 L323.7,140.2 L324.2,140.2 L324.6,140.1 L325.1,140.1 L325.5,140.1 L326.0,140.1 L326.4,140.1 L326.8,140.0 L327.3,140.0 L327.7,140.0 L328.2,140.0 L328.6,139.9 L329.1,139.9 L329.5,139.9 L330.0,139.9 L330.4,139.8 L330.8,139.8 L331.3,139.8 L331.7,139.8 L332.2,139.7 L332.6,139.7 L333.1,139.7 L333.5,139.7 L334.0,139.6 L334.4,139.6 L334.8,139.6 L335.3,139.6 L335.7,139.5 L336.2,139.5 L336.6,139.5 L337.1,139.5 L337.5,139.4 L338.0,139.4 L338.4,139.4 L338.8,139.4 L339.3,139.3 L339.7,139.3 L340.2,139.3 L340.6,139.2 L341.1,139.2 L341.5,139.2 L342.0,139.2 L342.4,139.1 L342.8,139.1 L343.3,139.1 L343.7,139.1 L344.2,139.0 L344.6,139.0 L345.1,139.0 L345.5,138.9 L346.0,138.9 L346.4,138.9 L346.8,138.9 L347.3,138.8 L347.7,138.8 L348.2,138.8 L348.6,138.7 L349.1,138.7 L349.5,138.7 L350.0,138.7 L350.4,138.6 L350.8,138.6 L351.3,138.6 L351.7,138.5 L352.2,138.5 L352.6,138.5 L353.1,138.5 L353.5,138.4 L354.0,138.4 L354.4,138.4 L354.8,138.3 L355.3,138.3 L355.7,138.3 L356.2,138.2 L356.6,138.2 L357.1,138.2 L357.5,138.2 L358.0,138.1 L358.4,138.1 L358.8,138.1 L359.3,138.0 L359.7,138.0 L360.2,138.0 L360.6,137.9 L361.1,137.9 L361.5,137.9 L361.9,137.8 L362.4,137.8 L362.8,137.7 L363.3,137.7 L363.7,137.7 L364.2,137.6 L364.6,137.6 L365.1,137.6 L365.5,137.5 L365.9,137.5 L366.4,137.4 L366.8,137.4 L367.3,137.4 L367.7,137.3 L368.2,137.3 L368.6,137.2 L369.1,137.2 L369.5,137.1 L369.9,137.1 L370.4,137.1 L370.8,137.0 L371.3,137.0 L371.7,136.9 L372.2,136.9 L372.6,136.8 L373.1,136.8 L373.5,136.7 L373.9,136.7 L374.4,136.6 L374.8,136.6 L375.3,136.5 L375.7,136.5 L376.2,136.4 L376.6,136.3 L377.1,136.3 L377.5,136.2 L377.9,136.2 L378.4,136.1 L378.8,136.1 L379.3,136.0 L379.7,135.9 L380.2,135.9 L380.6,135.8 L381.1,135.8 L381.5,135.7 L381.9,135.6 L382.4,135.6 L382.8,135.5 L383.3,135.5 L383.7,135.4 L384.2,135.3 L384.6,135.3 L385.1,135.2 L385.5,135.1 L385.9,135.1 L386.4,135.0 L386.8,134.9 L387.3,134.9 L387.7,134.8 L388.2,134.7 L388.6,134.7 L389.1,134.6 L389.5,134.5" stroke="#9a6066"/>
<path d="M212.2,145.0 L212.6,145.0 L213.1,145.0 L213.5,145.0 L214.0,145.0 L214.4,145.0 L214.9,145.0 L215.3,145.0 L215.8,145.0 L216.2,145.0 L216.6,145.0 L217.1,145.0 L217.5,145.0 L218.0,145.0 L218.4,145.0 L218.9,145.0 L219.3,145.0 L219.8,145.0 L220.2,145.0 L220.6,145.0 L221.1,145.0 L221.5,145.0 L222.0,145.0 L222.4,145.0 L222.9,144.9 L223.3,144.9 L223.8,144.9 L224.2,144.9 L224.6,144.9 L225.1,144.9 L225.5,144.9 L226.0,144.9 L226.4,144.9 L226.9,144.9 L227.3,144.9 L227.8,144.9 L228.2,144.9 L228.6,144.9 L229.1,144.9 L229.5,144.9 L230.0,144.9 L230.4,144.9 L230.9,144.9 L231.3,144.9 L231.8,144.9 L232.2,144.9 L232.6,144.9 L233.1,144.9 L233.5,144.9 L234.0,144.9 L234.4,144.9 L234.9,144.9 L235.3,144.9 L235.8,144.9 L236.2,144.9 L236.6,144.9 L237.1,144.9 L237.5,144.9 L238.0,144.9 L238.4,144.9 L238.9,144.9 L239.3,144.8 L239.8,144.8 L240.2,144.8 L240.6,144.8 L241.1,144.8 L241.5,144.8 L242.0,144.8 L242.4,144.8 L242.9,144.8 L243.3,144.8 L243.7,144.8 L244.2,144.8 L244.6,144.8 L245.1,144.8 L245.5,144.8 L246.0,144.8 L246.4,144.8 L246.9,144.8 L247.3,144.8 L247.7,144.8 L248.2,144.8 L248.6,144.8 L249.1,144.8 L249.5,144.8 L250.0,144.8 L250.4,144.8 L250.9,144.8 L251.3,144.8 L251.7,144.8 L252.2,144.8 L252.6,144.7 L253.1,144.7 L253.5,144.7 L254.0,144.7 L254.4,144.7 L254.9,144.7 L255.3,144.7 L255.7,144.7 L256.2,144.7 L256.6,144.7 L257.1,144.7 L257.5,144.7 L258.0,144.7 L258.4,144.7 L258.9,144.7 L259.3,144.7 L259.7,144.7 L260.2,144.7 L260.6,144.7 L261.1,144.7 L261.5,144.7 L262.0,144.7 L262.4,144.7 L262.9,144.7 L263.3,144.7 L263.7,144.7 L264.2,144.7 L264.6,144.7 L265.1,144.7 L265.5,144.6 L266.0,144.6 L266.4,144.6 L266.9,144.6 L267.3,144.6 L267.7,144.6 L268.2,144.6 L268.6,144.6 L269.1,144.6 L269.5,144.6 L270.0,144.6 L270.4,144.6 L270.9,144.6 L271.3,144.6 L271.7,144.6 L272.2,144.6 L272.6,144.6 L273.1,144.6 L273.5,144.6 L274.0,144.6 L274.4,144.6 L274.9,144.6 L275.3,144.6 L275.7,144.6 L276.2,144.6 L276.6,144.6 L277.1,144.5 L277.5,144.5 L278.0,144.5 L278.4,144.5 L278.9,144.5 L279.3,144.5 L279.7,144.5 L280.2,144.5 L280.6,144.5 L281.1,144.5 L281.5,144.5 L282.0,144.5 L282.4,144.5 L282.9,144.5 L283.3,144.5 L283.7,144.5 L284.2,144.5 L284.6,144.5 L285.1,144.5 L285.5,144.5 L286.0,144.5 L286.4,144.5 L286.9,144.4 L287.3,144.4 L287.7,144.4 L288.2,144.4 L288.6,144.4 L289.1,144.4 L289.5,144.4 L290.0,144.4 L290.4,144.4 L290.9,144.4 L291.3,144.4 L291.7,144.4 L292.2,144.4 L292.6,144.4 L293.1,144.4 L293.5,144.4 L294.0,144.4 L294.4,144.4 L294.9,144.4 L295.3,144.4 L295.7,144.3 L296.2,144.3 L296.6,144.3 L297.1,144.3 L297.5,144.3 L298.0,144.3 L298.4,144.3 L298.9,144.3 L299.3,144.3 L299.7,144.3 L300.2,144.3 L300.6,144.3 L301.1,144.3 L301.5,144.3 L302.0,144.3 L302.4,144.3 L302.8,144.3 L303.3,144.3 L303.7,144.3 L304.2,144.2 L304.6,144.2 L305.1,144.2 L305.5,144.2 L306.0,144.2 L306.4,144.2 L306.8,144.2 L307.3,144.2 L307.7,144.2 L308.2,144.2 L308.6,144.2 L309.1,144.2 L309.5,144.2 L310.0,144.2 L310.4,144.2 L310.8,144.2 L311.3,144.2 L311.7,144.1 L312.2,144.1 L312.6,144.1 L313.1,144.1 L313.5,144.1 L314.0,144.1 L314.4,144.1 L314.8,144.1 L315.3,144.1 L315.7,144.1 L316.2,144.1 L316.6,144.1 L317.1,144.1 L317.5,144.1 L318.0,144.1 L318.4,144.1 L318.8,144.0 L319.3,144.0 L319.7,144.0 L320.2,144.0 L320.6,144.0 L321.1,144.0 L321.5,144.0 L322.0,144.0 L322.4,144.0 L322.8,144.0 L323.3,144.0 L323.7,144.0 L324.2,144.0 L324.6,144.0 L325.1,144.0 L325.5,143.9 L326.0,143.9 L326.4,143.9 L326.8,143.9 L327.3,143.9 L327.7,143.9 L328.2,143.9 L328.6,143.9 L329.1,143.9 L329.5,143.9 L330.0,143.9 L330.4,143.9 L330.8,143.9 L331.3,143.9 L331.7,143.8 L332.2,143.8 L332.6,143.8 L333.1,143.8 L333.5,143.8 L334.0,143.8 L334.4,143.8 L334.8,143.8 L335.3,143.8 L335.7,143.8 L336.2,143.8 L336.6,143.8 L337.1,143.7 L337.5,143.7 L338.0,143.7 L338.4,143.7 L338.8,143.7 L339.3,143.7 L339.7,143.7 L340.2,143.7 L340.6,143.7 L341.1,143.7 L341.5,143.7 L342.0,143.7 L342.4,143.6 L342.8,143.6 L343.3,143.6 L343.7,143.6 L344.2,143.6 L344.6,143.6 L345.1,143.6 L345.5,143.6 L346.0,143.6 L346.4,143.6 L346.8,143.6 L347.3,143.5 L347.7,143.5 L348.2,143.5 L348.6,143.5 L349.1,143.5 L349.5,143.5 L350.0,143.5 L350.4,143.5 L350.8,143.5 L351.3,143.5 L351.7,143.5 L352.2,143.4 L352.6,143.4 L353.1,143.4 L353.5,143.4 L354.0,143.4 L354.4,143.4 L354.8,143.4 L355.3,143.4 L355.7,143.4 L356.2,143.3 L356.6,143.3 L357.1,143.3 L357.5,143.3 L358.0,143.3 L358.4,143.3 L358.8,143.3 L359.3,143.3 L359.7,143.3 L360.2,143.2 L360.6,143.2 L361.1,143.2 L361.5,143.2 L361.9,143.2 L362.4,143.2 L362.8,143.2 L363.3,143.2 L363.7,143.2 L364.2,143.1 L364.6,143.1 L365.1,143.1 L365.5,143.1 L365.9,143.1 L366.4,143.1 L366.8,143.1 L367.3,143.1 L367.7,143.0 L368.2,143.0 L368.6,143.0 L369.1,143.0 L369.5,143.0 L369.9,143.0 L370.4,143.0 L370.8,143.0 L371.3,142.9 L371.7,142.9 L372.2,142.9 L372.6,142.9 L373.1,142.9 L373.5,142.9 L373.9,142.9 L374.4,142.9 L374.8,142.8 L375.3,142.8 L375.7,142.8 L376.2,142.8 L376.6,142.8 L377.1,142.8 L377.5,142.8 L377.9,142.8 L378.4,142.7 L378.8,142.7 L379.3,142.7 L379.7,142.7 L380.2,142.7 L380.6,142.7 L381.1,142.7 L381.5,142.6 L381.9,142.6 L382.4,142.6 L382.8,142.6 L383.3,142.6 L383.7,142.6 L384.2,142.6 L384.6,142.5 L385.1,142.5 L385.5,142.5 L385.9,142.5 L386.4,142.5 L386.8,142.5 L387.3,142.5 L387.7,142.4 L388.2,142.4 L388.6,142.4 L389.1,142.4 L389.5,142.4" stroke="#4a1070" stroke-width="1.8"/>
</g>
<line x1="212.2" y1="145.0" x2="215" y2="145.0" stroke="#000" stroke-width="1"/>
<text x="209" y="148.3" text-anchor="end" font-family="Liberation Serif, serif" font-weight="bold" font-size="11">0.0</text>
<line x1="212.2" y1="104.8" x2="215" y2="104.8" stroke="#000" stroke-width="1"/>
<text x="209" y="108.1" text-anchor="end" font-family="Liberation Serif, serif" font-weight="bold" font-size="11">0.2</text>
<line x1="212.2" y1="64.5" x2="215" y2="64.5" stroke="#000" stroke-width="1"/>
<text x="209" y="67.8" text-anchor="end" font-family="Liberation Serif, serif" font-weight="bold" font-size="11">0.4</text>
<line x1="212.2" y1="24.3" x2="215" y2="24.3" stroke="#000" stroke-width="1"/>
<text x="209" y="27.6" text-anchor="end" font-family="Liberation Serif, serif" font-weight="bold" font-size="11">0.6</text>
<line x1="212.2" y1="145" x2="212.2" y2="142.2" stroke="#000" stroke-width="1"/>
<text x="212.2" y="157" text-anchor="middle" font-family="Liberation Serif, serif" font-weight="bold" font-size="11">1.2</text>
<line x1="300.9" y1="145" x2="300.9" y2="142.2" stroke="#000" stroke-width="1"/>
<text x="300.9" y="157" text-anchor="middle" font-family="Liberation Serif, serif" font-weight="bold" font-size="11">2.4</text>
<line x1="389.5" y1="145" x2="389.5" y2="142.2" stroke="#000" stroke-width="1"/>
<text x="389.5" y="157" text-anchor="middle" font-family="Liberation Serif, serif" font-weight="bold" font-size="11">3.6</text>
<text x="49.3" y="373.8" text-anchor="end" font-family="Liberation Serif, serif" font-size="31">0</text>
<text x="49.3" y="293.9" text-anchor="end" font-family="Liberation Serif, serif" font-size="31">2</text>
<text x="49.3" y="214.0" text-anchor="end" font-family="Liberation Serif, serif" font-size="31">4</text>
<text x="49.3" y="134.1" text-anchor="end" font-family="Liberation Serif, serif" font-size="31">6</text>
<text x="49.3" y="54.2" text-anchor="end" font-family="Liberation Serif, serif" font-size="31">8</text>
<text x="56.4" y="395.6" text-anchor="middle" font-family="Liberation Serif, serif" font-size="31">0</text>
<text x="130.8" y="395.6" text-anchor="middle" font-family="Liberation Serif, serif" font-size="31">5</text>
<text x="205.2" y="395.6" text-anchor="middle" font-family="Liberation Serif, serif" font-size="31">10</text>
<text x="279.6" y="395.6" text-anchor="middle" font-family="Liberation Serif, serif" font-size="31">15</text>
<text x="354.0" y="395.6" text-anchor="middle" font-family="Liberation Serif, serif" font-size="31">20</text>
<text x="428.4" y="395.6" text-anchor="middle" font-family="Liberation Serif, serif" font-size="31">25</text>
<text x="502.8" y="395.6" text-anchor="middle" font-family="Liberation Serif, serif" font-size="31">30</text>
<text x="156" y="423.8" font-family="Liberation Serif, serif" font-size="30.8">Photon Energy (eV)</text>
<text transform="translate(24.6,269.5) rotate(-90)" font-family="Liberation Serif, serif" font-size="30.3">Loss Function</text>
<line x1="68.5" y1="16.5" x2="111" y2="16.5" stroke="#000000" stroke-width="2"/>
<text x="116.3" y="22.7" font-family="Liberation Serif, serif" font-size="18.6">BaCeO<tspan font-size="14" dx="0.4" dy="5.3">3</tspan></text>
<line x1="68.5" y1="44" x2="111" y2="44" stroke="#e01010" stroke-width="2"/>
<text x="116.3" y="50.2" font-family="Liberation Serif, serif" font-size="18.6">CaCeO<tspan font-size="14" dx="0.4" dy="5.3">3</tspan></text>
<line x1="68.5" y1="71.5" x2="111" y2="71.5" stroke="#0000ff" stroke-width="2"/>
<text x="116.3" y="77.7" font-family="Liberation Serif, serif" font-size="18.6">SrCeO<tspan font-size="14" dx="0.4" dy="5.3">3</tspan></text>
<line x1="68.5" y1="98.7" x2="111" y2="98.7" stroke="#e81cf0" stroke-width="2"/>
<text x="116.3" y="104.9" font-family="Liberation Serif, serif" font-size="18.6">BaTiO<tspan font-size="14" dx="0.4" dy="5.3">3</tspan></text>
<line x1="68.5" y1="126" x2="111" y2="126" stroke="#4a7d28" stroke-width="2"/>
<text x="116.3" y="132.2" font-family="Liberation Serif, serif" font-size="18.6">CaTiO<tspan font-size="14" dx="0.4" dy="5.3">3</tspan></text>
<line x1="68.5" y1="153.3" x2="111" y2="153.3" stroke="#000080" stroke-width="2"/>
<text x="116.3" y="159.5" font-family="Liberation Serif, serif" font-size="18.6">SrTiO<tspan font-size="14" dx="0.4" dy="5.3">3</tspan></text>
<line x1="68.5" y1="180.3" x2="111" y2="180.3" stroke="#6a18e8" stroke-width="2"/>
<text x="116.3" y="186.5" font-family="Liberation Serif, serif" font-size="18.6">BaZrO<tspan font-size="14" dx="0.4" dy="5.3">3</tspan></text>
<line x1="68.5" y1="207.6" x2="111" y2="207.6" stroke="#5e1276" stroke-width="2"/>
<text x="116.3" y="213.8" font-family="Liberation Serif, serif" font-size="18.6">CaZrO<tspan font-size="14" dx="0.4" dy="5.3">3</tspan></text>
<line x1="68.5" y1="235" x2="111" y2="235" stroke="#800000" stroke-width="2"/>
<text x="116.3" y="241.2" font-family="Liberation Serif, serif" font-size="18.6">SrZrO<tspan font-size="14" dx="0.4" dy="5.3">3</tspan></text>
</svg>
</body></html>
